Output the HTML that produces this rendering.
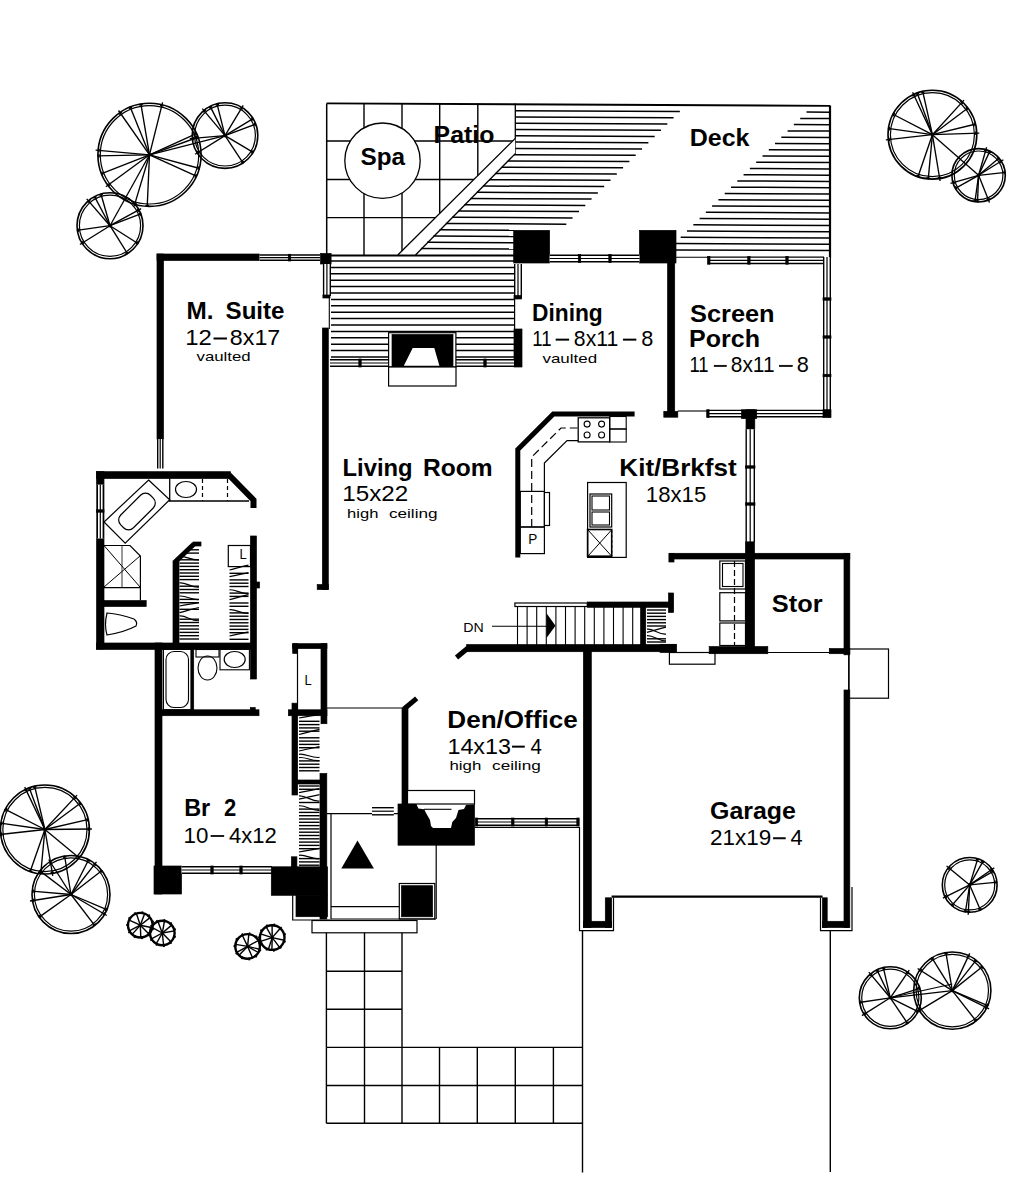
<!DOCTYPE html>
<html><head><meta charset="utf-8"><style>
html,body{margin:0;padding:0;background:#fff;}
svg{display:block;}
text{font-family:"Liberation Sans",sans-serif;fill:#000;}
</style></head><body>
<svg width="1024" height="1192" viewBox="0 0 1024 1192">
<rect width="1024" height="1192" fill="#fff"/>
<circle cx="149.5" cy="154.8" r="51.6" fill="none" stroke="#000" stroke-width="1.6"/>
<circle cx="149.5" cy="154.8" r="49.2" fill="none" stroke="#000" stroke-width="1.2"/>
<line x1="149.5" y1="154.8" x2="118.5" y2="110.5" stroke="#000" stroke-width="1.35" />
<line x1="119.0" y1="114.4" x2="122.0" y2="112.3" stroke="#000" stroke-width="1.2" />
<line x1="149.5" y1="154.8" x2="130.0" y2="106.5" stroke="#000" stroke-width="1.35" />
<line x1="128.9" y1="108.6" x2="132.2" y2="107.2" stroke="#000" stroke-width="1.2" />
<line x1="149.5" y1="154.8" x2="140.8" y2="103.4" stroke="#000" stroke-width="1.35" />
<line x1="139.3" y1="105.2" x2="142.8" y2="104.6" stroke="#000" stroke-width="1.2" />
<line x1="149.5" y1="154.8" x2="162.6" y2="102.3" stroke="#000" stroke-width="1.35" />
<line x1="160.0" y1="105.3" x2="163.5" y2="106.1" stroke="#000" stroke-width="1.2" />
<line x1="149.5" y1="154.8" x2="196.9" y2="133.3" stroke="#000" stroke-width="1.35" />
<line x1="194.8" y1="132.3" x2="196.3" y2="135.5" stroke="#000" stroke-width="1.2" />
<line x1="149.5" y1="154.8" x2="198.5" y2="137.0" stroke="#000" stroke-width="1.35" />
<line x1="196.4" y1="135.8" x2="197.7" y2="139.2" stroke="#000" stroke-width="1.2" />
<line x1="149.5" y1="154.8" x2="95.6" y2="150.1" stroke="#000" stroke-width="1.35" />
<line x1="98.9" y1="152.2" x2="99.2" y2="148.6" stroke="#000" stroke-width="1.2" />
<line x1="149.5" y1="154.8" x2="97.4" y2="155.9" stroke="#000" stroke-width="1.35" />
<line x1="98.9" y1="157.7" x2="98.9" y2="154.1" stroke="#000" stroke-width="1.2" />
<line x1="149.5" y1="154.8" x2="101.0" y2="173.8" stroke="#000" stroke-width="1.35" />
<line x1="103.0" y1="174.9" x2="101.7" y2="171.6" stroke="#000" stroke-width="1.2" />
<line x1="149.5" y1="154.8" x2="105.9" y2="186.8" stroke="#000" stroke-width="1.35" />
<line x1="109.8" y1="186.2" x2="107.7" y2="183.3" stroke="#000" stroke-width="1.2" />
<line x1="149.5" y1="154.8" x2="199.8" y2="168.5" stroke="#000" stroke-width="1.35" />
<line x1="198.8" y1="166.3" x2="197.9" y2="169.8" stroke="#000" stroke-width="1.2" />
<line x1="149.5" y1="154.8" x2="196.9" y2="176.4" stroke="#000" stroke-width="1.35" />
<line x1="196.3" y1="174.1" x2="194.8" y2="177.4" stroke="#000" stroke-width="1.2" />
<line x1="149.5" y1="154.8" x2="134.0" y2="206.6" stroke="#000" stroke-width="1.35" />
<line x1="136.8" y1="203.8" x2="133.3" y2="202.8" stroke="#000" stroke-width="1.2" />
<line x1="149.5" y1="154.8" x2="147.2" y2="206.9" stroke="#000" stroke-width="1.35" />
<line x1="149.1" y1="205.4" x2="145.5" y2="205.3" stroke="#000" stroke-width="1.2" />
<circle cx="149.5" cy="154.8" r="1.8" fill="#000"/>
<circle cx="225.0" cy="135.6" r="32.8" fill="none" stroke="#000" stroke-width="1.6"/>
<circle cx="225.0" cy="135.6" r="30.4" fill="none" stroke="#000" stroke-width="1.2"/>
<line x1="225.0" y1="135.6" x2="202.3" y2="108.6" stroke="#000" stroke-width="1.35" />
<line x1="203.2" y1="112.4" x2="205.9" y2="110.1" stroke="#000" stroke-width="1.2" />
<line x1="225.0" y1="135.6" x2="209.9" y2="105.9" stroke="#000" stroke-width="1.35" />
<line x1="209.0" y1="108.1" x2="212.2" y2="106.4" stroke="#000" stroke-width="1.2" />
<line x1="225.0" y1="135.6" x2="216.9" y2="103.3" stroke="#000" stroke-width="1.35" />
<line x1="215.6" y1="105.2" x2="219.1" y2="104.3" stroke="#000" stroke-width="1.2" />
<line x1="225.0" y1="135.6" x2="243.2" y2="105.3" stroke="#000" stroke-width="1.35" />
<line x1="239.8" y1="107.4" x2="242.9" y2="109.3" stroke="#000" stroke-width="1.2" />
<line x1="225.0" y1="135.6" x2="253.5" y2="118.4" stroke="#000" stroke-width="1.35" />
<line x1="251.3" y1="117.7" x2="253.2" y2="120.8" stroke="#000" stroke-width="1.2" />
<line x1="225.0" y1="135.6" x2="256.2" y2="123.9" stroke="#000" stroke-width="1.35" />
<line x1="254.1" y1="122.7" x2="255.4" y2="126.1" stroke="#000" stroke-width="1.2" />
<line x1="225.0" y1="135.6" x2="195.1" y2="154.3" stroke="#000" stroke-width="1.35" />
<line x1="199.0" y1="154.0" x2="197.1" y2="150.9" stroke="#000" stroke-width="1.2" />
<line x1="225.0" y1="135.6" x2="243.3" y2="163.4" stroke="#000" stroke-width="1.35" />
<line x1="244.0" y1="161.2" x2="241.0" y2="163.2" stroke="#000" stroke-width="1.2" />
<line x1="225.0" y1="135.6" x2="253.6" y2="152.7" stroke="#000" stroke-width="1.35" />
<line x1="253.2" y1="150.3" x2="251.4" y2="153.4" stroke="#000" stroke-width="1.2" />
<line x1="225.0" y1="135.6" x2="189.8" y2="138.7" stroke="#000" stroke-width="1.35" />
<line x1="193.5" y1="140.2" x2="193.2" y2="136.6" stroke="#000" stroke-width="1.2" />
<circle cx="225.0" cy="135.6" r="1.8" fill="#000"/>
<circle cx="110.0" cy="225.7" r="33.0" fill="none" stroke="#000" stroke-width="1.6"/>
<circle cx="110.0" cy="225.7" r="30.6" fill="none" stroke="#000" stroke-width="1.2"/>
<line x1="110.0" y1="225.7" x2="86.7" y2="198.9" stroke="#000" stroke-width="1.35" />
<line x1="87.6" y1="202.7" x2="90.4" y2="200.4" stroke="#000" stroke-width="1.2" />
<line x1="110.0" y1="225.7" x2="94.3" y2="196.1" stroke="#000" stroke-width="1.35" />
<line x1="93.4" y1="198.3" x2="96.6" y2="196.6" stroke="#000" stroke-width="1.2" />
<line x1="110.0" y1="225.7" x2="100.8" y2="193.5" stroke="#000" stroke-width="1.35" />
<line x1="99.4" y1="195.4" x2="102.9" y2="194.4" stroke="#000" stroke-width="1.2" />
<line x1="110.0" y1="225.7" x2="141.1" y2="208.7" stroke="#000" stroke-width="1.35" />
<line x1="137.2" y1="208.8" x2="138.9" y2="211.9" stroke="#000" stroke-width="1.2" />
<line x1="110.0" y1="225.7" x2="141.3" y2="213.7" stroke="#000" stroke-width="1.35" />
<line x1="139.2" y1="212.6" x2="140.5" y2="215.9" stroke="#000" stroke-width="1.2" />
<line x1="110.0" y1="225.7" x2="76.8" y2="230.4" stroke="#000" stroke-width="1.35" />
<line x1="78.6" y1="231.9" x2="78.1" y2="228.4" stroke="#000" stroke-width="1.2" />
<line x1="110.0" y1="225.7" x2="79.9" y2="244.5" stroke="#000" stroke-width="1.35" />
<line x1="83.8" y1="244.2" x2="81.9" y2="241.1" stroke="#000" stroke-width="1.2" />
<line x1="110.0" y1="225.7" x2="127.8" y2="254.1" stroke="#000" stroke-width="1.35" />
<line x1="128.5" y1="251.9" x2="125.4" y2="253.8" stroke="#000" stroke-width="1.2" />
<line x1="110.0" y1="225.7" x2="138.3" y2="243.7" stroke="#000" stroke-width="1.35" />
<line x1="138.0" y1="241.4" x2="136.0" y2="244.4" stroke="#000" stroke-width="1.2" />
<circle cx="110.0" cy="225.7" r="1.8" fill="#000"/>
<line x1="149.5" y1="154.8" x2="225.0" y2="135.6" stroke="#000" stroke-width="1.2" />
<line x1="149.5" y1="154.8" x2="110.0" y2="225.7" stroke="#000" stroke-width="1.3" />
<circle cx="932.4" cy="134.7" r="44.4" fill="none" stroke="#000" stroke-width="1.6"/>
<circle cx="932.4" cy="134.7" r="42.0" fill="none" stroke="#000" stroke-width="1.2"/>
<line x1="932.4" y1="134.7" x2="912.6" y2="92.2" stroke="#000" stroke-width="1.35" />
<line x1="912.4" y1="96.1" x2="915.7" y2="94.6" stroke="#000" stroke-width="1.2" />
<line x1="932.4" y1="134.7" x2="917.0" y2="92.5" stroke="#000" stroke-width="1.35" />
<line x1="915.9" y1="94.5" x2="919.2" y2="93.3" stroke="#000" stroke-width="1.2" />
<line x1="932.4" y1="134.7" x2="922.6" y2="90.9" stroke="#000" stroke-width="1.35" />
<line x1="921.2" y1="92.7" x2="924.7" y2="92.0" stroke="#000" stroke-width="1.2" />
<line x1="932.4" y1="134.7" x2="964.0" y2="100.1" stroke="#000" stroke-width="1.35" />
<line x1="960.3" y1="101.4" x2="963.0" y2="103.9" stroke="#000" stroke-width="1.2" />
<line x1="932.4" y1="134.7" x2="968.3" y2="107.7" stroke="#000" stroke-width="1.35" />
<line x1="966.0" y1="107.1" x2="968.1" y2="110.0" stroke="#000" stroke-width="1.2" />
<line x1="932.4" y1="134.7" x2="976.0" y2="124.0" stroke="#000" stroke-width="1.35" />
<line x1="974.1" y1="122.6" x2="975.0" y2="126.1" stroke="#000" stroke-width="1.2" />
<line x1="932.4" y1="134.7" x2="979.3" y2="133.1" stroke="#000" stroke-width="1.35" />
<line x1="975.7" y1="131.4" x2="975.8" y2="135.0" stroke="#000" stroke-width="1.2" />
<line x1="932.4" y1="134.7" x2="892.5" y2="114.0" stroke="#000" stroke-width="1.35" />
<line x1="893.0" y1="116.3" x2="894.7" y2="113.1" stroke="#000" stroke-width="1.2" />
<line x1="932.4" y1="134.7" x2="887.9" y2="128.4" stroke="#000" stroke-width="1.35" />
<line x1="889.2" y1="130.4" x2="889.7" y2="126.8" stroke="#000" stroke-width="1.2" />
<line x1="932.4" y1="134.7" x2="885.8" y2="139.8" stroke="#000" stroke-width="1.35" />
<line x1="889.5" y1="141.3" x2="889.1" y2="137.7" stroke="#000" stroke-width="1.2" />
<line x1="932.4" y1="134.7" x2="917.8" y2="177.2" stroke="#000" stroke-width="1.35" />
<line x1="920.0" y1="176.3" x2="916.6" y2="175.1" stroke="#000" stroke-width="1.2" />
<line x1="932.4" y1="134.7" x2="928.2" y2="179.4" stroke="#000" stroke-width="1.35" />
<line x1="930.1" y1="178.1" x2="926.5" y2="177.7" stroke="#000" stroke-width="1.2" />
<line x1="932.4" y1="134.7" x2="940.1" y2="181.0" stroke="#000" stroke-width="1.35" />
<line x1="941.3" y1="177.2" x2="937.8" y2="177.8" stroke="#000" stroke-width="1.2" />
<circle cx="932.4" cy="134.7" r="1.8" fill="#000"/>
<circle cx="978.6" cy="175.3" r="26.7" fill="none" stroke="#000" stroke-width="1.6"/>
<circle cx="978.6" cy="175.3" r="24.3" fill="none" stroke="#000" stroke-width="1.2"/>
<line x1="978.6" y1="175.3" x2="986.6" y2="147.2" stroke="#000" stroke-width="1.35" />
<line x1="984.0" y1="150.1" x2="987.4" y2="151.1" stroke="#000" stroke-width="1.2" />
<line x1="978.6" y1="175.3" x2="990.1" y2="150.6" stroke="#000" stroke-width="1.35" />
<line x1="987.8" y1="151.2" x2="991.1" y2="152.8" stroke="#000" stroke-width="1.2" />
<line x1="978.6" y1="175.3" x2="999.4" y2="157.8" stroke="#000" stroke-width="1.35" />
<line x1="997.1" y1="157.4" x2="999.4" y2="160.2" stroke="#000" stroke-width="1.2" />
<line x1="978.6" y1="175.3" x2="1003.4" y2="159.8" stroke="#000" stroke-width="1.35" />
<line x1="999.4" y1="160.2" x2="1001.3" y2="163.2" stroke="#000" stroke-width="1.2" />
<line x1="978.6" y1="175.3" x2="1005.6" y2="172.3" stroke="#000" stroke-width="1.35" />
<line x1="1003.9" y1="170.6" x2="1004.3" y2="174.2" stroke="#000" stroke-width="1.2" />
<line x1="978.6" y1="175.3" x2="954.9" y2="188.7" stroke="#000" stroke-width="1.35" />
<line x1="957.1" y1="189.5" x2="955.3" y2="186.3" stroke="#000" stroke-width="1.2" />
<line x1="978.6" y1="175.3" x2="950.5" y2="183.3" stroke="#000" stroke-width="1.35" />
<line x1="954.4" y1="184.1" x2="953.4" y2="180.7" stroke="#000" stroke-width="1.2" />
<line x1="978.6" y1="175.3" x2="974.9" y2="202.2" stroke="#000" stroke-width="1.35" />
<line x1="976.9" y1="201.0" x2="973.3" y2="200.5" stroke="#000" stroke-width="1.2" />
<line x1="978.6" y1="175.3" x2="977.5" y2="202.5" stroke="#000" stroke-width="1.35" />
<line x1="979.3" y1="201.1" x2="975.7" y2="200.9" stroke="#000" stroke-width="1.2" />
<line x1="978.6" y1="175.3" x2="989.5" y2="202.4" stroke="#000" stroke-width="1.35" />
<line x1="989.9" y1="198.5" x2="986.6" y2="199.8" stroke="#000" stroke-width="1.2" />
<circle cx="978.6" cy="175.3" r="1.8" fill="#000"/>
<line x1="932.4" y1="134.7" x2="978.6" y2="175.3" stroke="#000" stroke-width="1.3" />
<circle cx="44.9" cy="829.5" r="44.5" fill="none" stroke="#000" stroke-width="1.6"/>
<circle cx="44.9" cy="829.5" r="42.1" fill="none" stroke="#000" stroke-width="1.2"/>
<line x1="44.9" y1="829.5" x2="24.7" y2="787.1" stroke="#000" stroke-width="1.35" />
<line x1="24.5" y1="791.0" x2="27.8" y2="789.5" stroke="#000" stroke-width="1.2" />
<line x1="44.9" y1="829.5" x2="29.1" y2="787.4" stroke="#000" stroke-width="1.35" />
<line x1="27.9" y1="789.4" x2="31.3" y2="788.1" stroke="#000" stroke-width="1.2" />
<line x1="44.9" y1="829.5" x2="34.5" y2="785.7" stroke="#000" stroke-width="1.35" />
<line x1="33.1" y1="787.6" x2="36.6" y2="786.8" stroke="#000" stroke-width="1.2" />
<line x1="44.9" y1="829.5" x2="77.0" y2="795.1" stroke="#000" stroke-width="1.35" />
<line x1="73.3" y1="796.5" x2="75.9" y2="798.9" stroke="#000" stroke-width="1.2" />
<line x1="44.9" y1="829.5" x2="81.0" y2="802.7" stroke="#000" stroke-width="1.35" />
<line x1="78.7" y1="802.1" x2="80.9" y2="805.0" stroke="#000" stroke-width="1.2" />
<line x1="44.9" y1="829.5" x2="88.7" y2="819.4" stroke="#000" stroke-width="1.35" />
<line x1="86.9" y1="818.0" x2="87.7" y2="821.5" stroke="#000" stroke-width="1.2" />
<line x1="44.9" y1="829.5" x2="91.9" y2="829.0" stroke="#000" stroke-width="1.35" />
<line x1="88.4" y1="827.2" x2="88.4" y2="830.8" stroke="#000" stroke-width="1.2" />
<line x1="44.9" y1="829.5" x2="4.8" y2="809.1" stroke="#000" stroke-width="1.35" />
<line x1="5.3" y1="811.4" x2="7.0" y2="808.1" stroke="#000" stroke-width="1.2" />
<line x1="44.9" y1="829.5" x2="0.4" y2="823.1" stroke="#000" stroke-width="1.35" />
<line x1="1.6" y1="825.1" x2="2.1" y2="821.5" stroke="#000" stroke-width="1.2" />
<line x1="44.9" y1="829.5" x2="-1.8" y2="834.7" stroke="#000" stroke-width="1.35" />
<line x1="1.9" y1="836.1" x2="1.5" y2="832.5" stroke="#000" stroke-width="1.2" />
<line x1="44.9" y1="829.5" x2="30.0" y2="872.0" stroke="#000" stroke-width="1.35" />
<line x1="32.2" y1="871.2" x2="28.8" y2="870.0" stroke="#000" stroke-width="1.2" />
<line x1="44.9" y1="829.5" x2="40.7" y2="874.3" stroke="#000" stroke-width="1.35" />
<line x1="42.6" y1="873.0" x2="39.0" y2="872.6" stroke="#000" stroke-width="1.2" />
<line x1="44.9" y1="829.5" x2="52.8" y2="875.8" stroke="#000" stroke-width="1.35" />
<line x1="54.0" y1="872.1" x2="50.5" y2="872.7" stroke="#000" stroke-width="1.2" />
<line x1="44.9" y1="829.5" x2="79.6" y2="858.2" stroke="#000" stroke-width="1.35" />
<line x1="79.6" y1="855.8" x2="77.3" y2="858.6" stroke="#000" stroke-width="1.2" />
<circle cx="44.9" cy="829.5" r="1.8" fill="#000"/>
<circle cx="71.0" cy="894.5" r="39.0" fill="none" stroke="#000" stroke-width="1.6"/>
<circle cx="71.0" cy="894.5" r="36.6" fill="none" stroke="#000" stroke-width="1.2"/>
<line x1="71.0" y1="894.5" x2="48.7" y2="859.5" stroke="#000" stroke-width="1.35" />
<line x1="49.1" y1="863.4" x2="52.1" y2="861.5" stroke="#000" stroke-width="1.2" />
<line x1="71.0" y1="894.5" x2="64.5" y2="855.5" stroke="#000" stroke-width="1.35" />
<line x1="63.0" y1="857.3" x2="66.6" y2="856.7" stroke="#000" stroke-width="1.2" />
<line x1="71.0" y1="894.5" x2="88.9" y2="859.3" stroke="#000" stroke-width="1.35" />
<line x1="86.6" y1="859.8" x2="89.9" y2="861.5" stroke="#000" stroke-width="1.2" />
<line x1="71.0" y1="894.5" x2="96.5" y2="861.8" stroke="#000" stroke-width="1.35" />
<line x1="93.0" y1="863.4" x2="95.8" y2="865.7" stroke="#000" stroke-width="1.2" />
<line x1="71.0" y1="894.5" x2="102.3" y2="870.3" stroke="#000" stroke-width="1.35" />
<line x1="100.0" y1="869.8" x2="102.2" y2="872.7" stroke="#000" stroke-width="1.2" />
<line x1="71.0" y1="894.5" x2="31.7" y2="891.1" stroke="#000" stroke-width="1.35" />
<line x1="33.0" y1="893.0" x2="33.3" y2="889.4" stroke="#000" stroke-width="1.2" />
<line x1="71.0" y1="894.5" x2="30.0" y2="901.0" stroke="#000" stroke-width="1.35" />
<line x1="33.7" y1="902.2" x2="33.2" y2="898.7" stroke="#000" stroke-width="1.2" />
<line x1="71.0" y1="894.5" x2="38.8" y2="917.4" stroke="#000" stroke-width="1.35" />
<line x1="41.1" y1="918.0" x2="39.0" y2="915.0" stroke="#000" stroke-width="1.2" />
<line x1="71.0" y1="894.5" x2="95.0" y2="925.8" stroke="#000" stroke-width="1.35" />
<line x1="95.6" y1="923.6" x2="92.7" y2="925.7" stroke="#000" stroke-width="1.2" />
<line x1="71.0" y1="894.5" x2="106.8" y2="915.5" stroke="#000" stroke-width="1.35" />
<line x1="104.7" y1="912.2" x2="102.9" y2="915.3" stroke="#000" stroke-width="1.2" />
<line x1="71.0" y1="894.5" x2="107.4" y2="909.9" stroke="#000" stroke-width="1.35" />
<line x1="106.7" y1="907.7" x2="105.3" y2="911.0" stroke="#000" stroke-width="1.2" />
<line x1="71.0" y1="894.5" x2="39.6" y2="870.6" stroke="#000" stroke-width="1.35" />
<line x1="39.7" y1="872.9" x2="41.9" y2="870.0" stroke="#000" stroke-width="1.2" />
<circle cx="71.0" cy="894.5" r="1.8" fill="#000"/>
<circle cx="969.7" cy="884.9" r="27.4" fill="none" stroke="#000" stroke-width="1.6"/>
<circle cx="969.7" cy="884.9" r="25.0" fill="none" stroke="#000" stroke-width="1.2"/>
<line x1="969.7" y1="884.9" x2="946.6" y2="866.0" stroke="#000" stroke-width="1.35" />
<line x1="948.1" y1="869.6" x2="950.4" y2="866.8" stroke="#000" stroke-width="1.2" />
<line x1="969.7" y1="884.9" x2="977.9" y2="858.2" stroke="#000" stroke-width="1.35" />
<line x1="975.7" y1="859.1" x2="979.1" y2="860.2" stroke="#000" stroke-width="1.2" />
<line x1="969.7" y1="884.9" x2="983.4" y2="860.6" stroke="#000" stroke-width="1.35" />
<line x1="981.0" y1="861.0" x2="984.2" y2="862.8" stroke="#000" stroke-width="1.2" />
<line x1="969.7" y1="884.9" x2="994.3" y2="867.8" stroke="#000" stroke-width="1.35" />
<line x1="990.4" y1="868.4" x2="992.4" y2="871.3" stroke="#000" stroke-width="1.2" />
<line x1="969.7" y1="884.9" x2="993.9" y2="870.9" stroke="#000" stroke-width="1.35" />
<line x1="991.7" y1="870.1" x2="993.5" y2="873.3" stroke="#000" stroke-width="1.2" />
<line x1="969.7" y1="884.9" x2="997.5" y2="882.2" stroke="#000" stroke-width="1.35" />
<line x1="995.8" y1="880.5" x2="996.1" y2="884.1" stroke="#000" stroke-width="1.2" />
<line x1="969.7" y1="884.9" x2="942.9" y2="898.1" stroke="#000" stroke-width="1.35" />
<line x1="946.8" y1="898.2" x2="945.2" y2="894.9" stroke="#000" stroke-width="1.2" />
<line x1="969.7" y1="884.9" x2="951.4" y2="906.0" stroke="#000" stroke-width="1.35" />
<line x1="953.7" y1="906.0" x2="951.0" y2="903.6" stroke="#000" stroke-width="1.2" />
<line x1="969.7" y1="884.9" x2="965.3" y2="912.5" stroke="#000" stroke-width="1.35" />
<line x1="967.3" y1="911.3" x2="963.8" y2="910.7" stroke="#000" stroke-width="1.2" />
<line x1="969.7" y1="884.9" x2="968.2" y2="914.8" stroke="#000" stroke-width="1.35" />
<line x1="970.2" y1="911.4" x2="966.6" y2="911.2" stroke="#000" stroke-width="1.2" />
<line x1="969.7" y1="884.9" x2="980.6" y2="910.6" stroke="#000" stroke-width="1.35" />
<line x1="981.7" y1="908.5" x2="978.4" y2="909.9" stroke="#000" stroke-width="1.2" />
<circle cx="969.7" cy="884.9" r="1.8" fill="#000"/>
<circle cx="890.3" cy="997.8" r="31.0" fill="none" stroke="#000" stroke-width="1.6"/>
<circle cx="890.3" cy="997.8" r="28.6" fill="none" stroke="#000" stroke-width="1.2"/>
<line x1="890.3" y1="997.8" x2="868.8" y2="972.1" stroke="#000" stroke-width="1.35" />
<line x1="869.6" y1="976.0" x2="872.4" y2="973.7" stroke="#000" stroke-width="1.2" />
<line x1="890.3" y1="997.8" x2="876.7" y2="969.4" stroke="#000" stroke-width="1.35" />
<line x1="875.8" y1="971.5" x2="879.0" y2="969.9" stroke="#000" stroke-width="1.2" />
<line x1="890.3" y1="997.8" x2="883.2" y2="967.1" stroke="#000" stroke-width="1.35" />
<line x1="881.8" y1="969.0" x2="885.3" y2="968.2" stroke="#000" stroke-width="1.2" />
<line x1="890.3" y1="997.8" x2="909.3" y2="970.2" stroke="#000" stroke-width="1.35" />
<line x1="905.8" y1="972.1" x2="908.8" y2="974.1" stroke="#000" stroke-width="1.2" />
<line x1="890.3" y1="997.8" x2="920.3" y2="988.1" stroke="#000" stroke-width="1.35" />
<line x1="918.3" y1="986.8" x2="919.4" y2="990.2" stroke="#000" stroke-width="1.2" />
<line x1="890.3" y1="997.8" x2="859.1" y2="1002.5" stroke="#000" stroke-width="1.35" />
<line x1="860.9" y1="1004.0" x2="860.4" y2="1000.5" stroke="#000" stroke-width="1.2" />
<line x1="890.3" y1="997.8" x2="861.9" y2="1015.6" stroke="#000" stroke-width="1.35" />
<line x1="865.8" y1="1015.2" x2="863.9" y2="1012.2" stroke="#000" stroke-width="1.2" />
<line x1="890.3" y1="997.8" x2="907.9" y2="1023.9" stroke="#000" stroke-width="1.35" />
<line x1="908.6" y1="1021.7" x2="905.6" y2="1023.7" stroke="#000" stroke-width="1.2" />
<line x1="890.3" y1="997.8" x2="918.5" y2="1011.8" stroke="#000" stroke-width="1.35" />
<line x1="918.0" y1="1009.5" x2="916.4" y2="1012.8" stroke="#000" stroke-width="1.2" />
<circle cx="890.3" cy="997.8" r="1.8" fill="#000"/>
<circle cx="952.3" cy="990.6" r="38.6" fill="none" stroke="#000" stroke-width="1.6"/>
<circle cx="952.3" cy="990.6" r="36.2" fill="none" stroke="#000" stroke-width="1.2"/>
<line x1="952.3" y1="990.6" x2="917.6" y2="968.5" stroke="#000" stroke-width="1.35" />
<line x1="919.6" y1="971.9" x2="921.6" y2="968.9" stroke="#000" stroke-width="1.2" />
<line x1="952.3" y1="990.6" x2="931.6" y2="957.4" stroke="#000" stroke-width="1.35" />
<line x1="930.8" y1="959.7" x2="933.9" y2="957.8" stroke="#000" stroke-width="1.2" />
<line x1="952.3" y1="990.6" x2="945.8" y2="952.0" stroke="#000" stroke-width="1.35" />
<line x1="944.3" y1="953.8" x2="947.9" y2="953.2" stroke="#000" stroke-width="1.2" />
<line x1="952.3" y1="990.6" x2="969.7" y2="953.4" stroke="#000" stroke-width="1.35" />
<line x1="966.6" y1="955.8" x2="969.8" y2="957.3" stroke="#000" stroke-width="1.2" />
<line x1="952.3" y1="990.6" x2="976.4" y2="959.8" stroke="#000" stroke-width="1.35" />
<line x1="974.0" y1="959.9" x2="976.9" y2="962.1" stroke="#000" stroke-width="1.2" />
<line x1="952.3" y1="990.6" x2="982.9" y2="966.3" stroke="#000" stroke-width="1.35" />
<line x1="980.6" y1="965.8" x2="982.9" y2="968.7" stroke="#000" stroke-width="1.2" />
<line x1="952.3" y1="990.6" x2="917.1" y2="1011.9" stroke="#000" stroke-width="1.35" />
<line x1="921.1" y1="1011.6" x2="919.2" y2="1008.5" stroke="#000" stroke-width="1.2" />
<line x1="952.3" y1="990.6" x2="976.4" y2="1021.4" stroke="#000" stroke-width="1.35" />
<line x1="976.9" y1="1019.1" x2="974.0" y2="1021.3" stroke="#000" stroke-width="1.2" />
<line x1="952.3" y1="990.6" x2="988.3" y2="1005.8" stroke="#000" stroke-width="1.35" />
<line x1="987.7" y1="1003.5" x2="986.3" y2="1006.8" stroke="#000" stroke-width="1.2" />
<line x1="952.3" y1="990.6" x2="989.1" y2="1008.9" stroke="#000" stroke-width="1.35" />
<line x1="986.8" y1="1005.8" x2="985.1" y2="1009.0" stroke="#000" stroke-width="1.2" />
<circle cx="952.3" cy="990.6" r="1.8" fill="#000"/>
<line x1="890.3" y1="997.8" x2="952.3" y2="990.6" stroke="#000" stroke-width="1.3" />
<line x1="890.3" y1="997.8" x2="952.3" y2="984.0" stroke="#000" stroke-width="1.1" />
<circle cx="140.3" cy="925.2" r="12.3" fill="none" stroke="#000" stroke-width="2.4"/>
<line x1="140.3" y1="925.2" x2="152.3" y2="927.7" stroke="#000" stroke-width="1.4" />
<line x1="140.3" y1="925.2" x2="148.9" y2="933.9" stroke="#000" stroke-width="1.4" />
<line x1="140.3" y1="925.2" x2="140.8" y2="937.5" stroke="#000" stroke-width="1.4" />
<line x1="140.3" y1="925.2" x2="132.1" y2="934.4" stroke="#000" stroke-width="1.4" />
<line x1="140.3" y1="925.2" x2="129.3" y2="930.8" stroke="#000" stroke-width="1.4" />
<line x1="140.3" y1="925.2" x2="129.1" y2="920.2" stroke="#000" stroke-width="1.4" />
<line x1="140.3" y1="925.2" x2="136.4" y2="913.5" stroke="#000" stroke-width="1.4" />
<line x1="140.3" y1="925.2" x2="144.6" y2="913.7" stroke="#000" stroke-width="1.4" />
<line x1="140.3" y1="925.2" x2="150.0" y2="917.6" stroke="#000" stroke-width="1.4" />
<line x1="151.1" y1="928.5" x2="153.8" y2="929.4" stroke="#000" stroke-width="1.8" />
<line x1="147.6" y1="933.8" x2="149.4" y2="936.0" stroke="#000" stroke-width="1.8" />
<line x1="141.7" y1="936.4" x2="142.1" y2="939.2" stroke="#000" stroke-width="1.8" />
<line x1="135.5" y1="935.4" x2="134.3" y2="937.9" stroke="#000" stroke-width="1.8" />
<line x1="130.7" y1="931.2" x2="128.3" y2="932.7" stroke="#000" stroke-width="1.8" />
<line x1="129.0" y1="925.0" x2="126.2" y2="925.0" stroke="#000" stroke-width="1.8" />
<line x1="130.9" y1="919.0" x2="128.5" y2="917.4" stroke="#000" stroke-width="1.8" />
<line x1="135.8" y1="914.9" x2="134.6" y2="912.3" stroke="#000" stroke-width="1.8" />
<line x1="142.1" y1="914.0" x2="142.5" y2="911.3" stroke="#000" stroke-width="1.8" />
<line x1="147.8" y1="916.8" x2="149.7" y2="914.7" stroke="#000" stroke-width="1.8" />
<line x1="151.2" y1="922.2" x2="153.9" y2="921.4" stroke="#000" stroke-width="1.8" />
<circle cx="140.3" cy="925.2" r="1.6" fill="#000"/>
<circle cx="162.3" cy="933.0" r="12.3" fill="none" stroke="#000" stroke-width="2.4"/>
<line x1="162.3" y1="933.0" x2="174.4" y2="930.9" stroke="#000" stroke-width="1.4" />
<line x1="162.3" y1="933.0" x2="170.9" y2="941.8" stroke="#000" stroke-width="1.4" />
<line x1="162.3" y1="933.0" x2="163.6" y2="945.2" stroke="#000" stroke-width="1.4" />
<line x1="162.3" y1="933.0" x2="156.3" y2="943.7" stroke="#000" stroke-width="1.4" />
<line x1="162.3" y1="933.0" x2="151.5" y2="938.8" stroke="#000" stroke-width="1.4" />
<line x1="162.3" y1="933.0" x2="151.5" y2="927.2" stroke="#000" stroke-width="1.4" />
<line x1="162.3" y1="933.0" x2="157.9" y2="921.5" stroke="#000" stroke-width="1.4" />
<line x1="162.3" y1="933.0" x2="164.5" y2="920.9" stroke="#000" stroke-width="1.4" />
<line x1="162.3" y1="933.0" x2="171.7" y2="925.1" stroke="#000" stroke-width="1.4" />
<line x1="173.1" y1="936.3" x2="175.8" y2="937.2" stroke="#000" stroke-width="1.8" />
<line x1="169.6" y1="941.6" x2="171.4" y2="943.8" stroke="#000" stroke-width="1.8" />
<line x1="163.7" y1="944.2" x2="164.1" y2="947.0" stroke="#000" stroke-width="1.8" />
<line x1="157.5" y1="943.2" x2="156.3" y2="945.7" stroke="#000" stroke-width="1.8" />
<line x1="152.7" y1="939.0" x2="150.3" y2="940.5" stroke="#000" stroke-width="1.8" />
<line x1="151.0" y1="932.8" x2="148.2" y2="932.8" stroke="#000" stroke-width="1.8" />
<line x1="152.9" y1="926.8" x2="150.5" y2="925.2" stroke="#000" stroke-width="1.8" />
<line x1="157.8" y1="922.7" x2="156.6" y2="920.1" stroke="#000" stroke-width="1.8" />
<line x1="164.1" y1="921.8" x2="164.5" y2="919.1" stroke="#000" stroke-width="1.8" />
<line x1="169.8" y1="924.6" x2="171.7" y2="922.5" stroke="#000" stroke-width="1.8" />
<line x1="173.2" y1="930.0" x2="175.9" y2="929.2" stroke="#000" stroke-width="1.8" />
<circle cx="162.3" cy="933.0" r="1.6" fill="#000"/>
<circle cx="247.6" cy="946.4" r="12.3" fill="none" stroke="#000" stroke-width="2.4"/>
<line x1="247.6" y1="946.4" x2="259.6" y2="949.2" stroke="#000" stroke-width="1.4" />
<line x1="247.6" y1="946.4" x2="258.3" y2="952.5" stroke="#000" stroke-width="1.4" />
<line x1="247.6" y1="946.4" x2="252.5" y2="957.7" stroke="#000" stroke-width="1.4" />
<line x1="247.6" y1="946.4" x2="239.0" y2="955.2" stroke="#000" stroke-width="1.4" />
<line x1="247.6" y1="946.4" x2="236.8" y2="952.4" stroke="#000" stroke-width="1.4" />
<line x1="247.6" y1="946.4" x2="235.5" y2="944.4" stroke="#000" stroke-width="1.4" />
<line x1="247.6" y1="946.4" x2="242.3" y2="935.3" stroke="#000" stroke-width="1.4" />
<line x1="247.6" y1="946.4" x2="248.8" y2="934.2" stroke="#000" stroke-width="1.4" />
<line x1="247.6" y1="946.4" x2="258.4" y2="940.5" stroke="#000" stroke-width="1.4" />
<line x1="258.4" y1="949.7" x2="261.1" y2="950.6" stroke="#000" stroke-width="1.8" />
<line x1="254.9" y1="955.0" x2="256.7" y2="957.2" stroke="#000" stroke-width="1.8" />
<line x1="249.0" y1="957.6" x2="249.4" y2="960.4" stroke="#000" stroke-width="1.8" />
<line x1="242.8" y1="956.6" x2="241.6" y2="959.1" stroke="#000" stroke-width="1.8" />
<line x1="238.0" y1="952.4" x2="235.6" y2="953.9" stroke="#000" stroke-width="1.8" />
<line x1="236.3" y1="946.2" x2="233.5" y2="946.2" stroke="#000" stroke-width="1.8" />
<line x1="238.2" y1="940.2" x2="235.8" y2="938.6" stroke="#000" stroke-width="1.8" />
<line x1="243.1" y1="936.1" x2="241.9" y2="933.5" stroke="#000" stroke-width="1.8" />
<line x1="249.4" y1="935.2" x2="249.8" y2="932.5" stroke="#000" stroke-width="1.8" />
<line x1="255.1" y1="938.0" x2="257.0" y2="935.9" stroke="#000" stroke-width="1.8" />
<line x1="258.5" y1="943.4" x2="261.2" y2="942.6" stroke="#000" stroke-width="1.8" />
<circle cx="247.6" cy="946.4" r="1.6" fill="#000"/>
<circle cx="272.2" cy="937.6" r="12.3" fill="none" stroke="#000" stroke-width="2.4"/>
<line x1="272.2" y1="937.6" x2="284.2" y2="940.2" stroke="#000" stroke-width="1.4" />
<line x1="272.2" y1="937.6" x2="279.6" y2="947.4" stroke="#000" stroke-width="1.4" />
<line x1="272.2" y1="937.6" x2="271.9" y2="949.9" stroke="#000" stroke-width="1.4" />
<line x1="272.2" y1="937.6" x2="268.4" y2="949.3" stroke="#000" stroke-width="1.4" />
<line x1="272.2" y1="937.6" x2="260.5" y2="941.3" stroke="#000" stroke-width="1.4" />
<line x1="272.2" y1="937.6" x2="260.5" y2="933.8" stroke="#000" stroke-width="1.4" />
<line x1="272.2" y1="937.6" x2="266.2" y2="926.9" stroke="#000" stroke-width="1.4" />
<line x1="272.2" y1="937.6" x2="272.1" y2="925.3" stroke="#000" stroke-width="1.4" />
<line x1="272.2" y1="937.6" x2="280.3" y2="928.3" stroke="#000" stroke-width="1.4" />
<line x1="283.0" y1="940.9" x2="285.7" y2="941.8" stroke="#000" stroke-width="1.8" />
<line x1="279.5" y1="946.2" x2="281.3" y2="948.4" stroke="#000" stroke-width="1.8" />
<line x1="273.6" y1="948.8" x2="274.0" y2="951.6" stroke="#000" stroke-width="1.8" />
<line x1="267.4" y1="947.8" x2="266.2" y2="950.3" stroke="#000" stroke-width="1.8" />
<line x1="262.6" y1="943.6" x2="260.2" y2="945.1" stroke="#000" stroke-width="1.8" />
<line x1="260.9" y1="937.4" x2="258.1" y2="937.4" stroke="#000" stroke-width="1.8" />
<line x1="262.8" y1="931.4" x2="260.4" y2="929.8" stroke="#000" stroke-width="1.8" />
<line x1="267.7" y1="927.3" x2="266.5" y2="924.7" stroke="#000" stroke-width="1.8" />
<line x1="274.0" y1="926.4" x2="274.4" y2="923.7" stroke="#000" stroke-width="1.8" />
<line x1="279.7" y1="929.2" x2="281.6" y2="927.1" stroke="#000" stroke-width="1.8" />
<line x1="283.1" y1="934.6" x2="285.8" y2="933.8" stroke="#000" stroke-width="1.8" />
<circle cx="272.2" cy="937.6" r="1.6" fill="#000"/>
<line x1="364.0" y1="103.4" x2="364.0" y2="255.0" stroke="#000" stroke-width="1.4" />
<line x1="402.0" y1="103.4" x2="402.0" y2="255.0" stroke="#000" stroke-width="1.4" />
<line x1="439.7" y1="103.4" x2="439.7" y2="255.0" stroke="#000" stroke-width="1.4" />
<line x1="477.8" y1="103.4" x2="477.8" y2="255.0" stroke="#000" stroke-width="1.4" />
<line x1="326.7" y1="141.0" x2="515.3" y2="141.0" stroke="#000" stroke-width="1.4" />
<line x1="326.7" y1="179.5" x2="515.3" y2="179.5" stroke="#000" stroke-width="1.4" />
<line x1="326.7" y1="217.6" x2="515.3" y2="217.6" stroke="#000" stroke-width="1.4" />
<line x1="326.7" y1="103.4" x2="830.0" y2="105.8" stroke="#000" stroke-width="1.8" />
<line x1="326.7" y1="103.4" x2="326.7" y2="257.0" stroke="#000" stroke-width="1.5" />
<line x1="515.3" y1="103.4" x2="515.3" y2="154.5" stroke="#000" stroke-width="1.3" />
<polygon points="397.8,255.0 515.3,138.4 515.3,256.0 397.8,256.0" fill="#fff" stroke="none" stroke-width="0"/>
<line x1="515.3" y1="110.7" x2="679.9" y2="111.5" stroke="#000" stroke-width="1.5" />
<line x1="806.5" y1="112.1" x2="830.0" y2="112.2" stroke="#000" stroke-width="1.5" />
<line x1="515.3" y1="117.0" x2="673.6" y2="117.8" stroke="#000" stroke-width="1.5" />
<line x1="800.2" y1="118.4" x2="830.0" y2="118.5" stroke="#000" stroke-width="1.5" />
<line x1="515.3" y1="123.3" x2="667.3" y2="124.0" stroke="#000" stroke-width="1.5" />
<line x1="793.9" y1="124.6" x2="830.0" y2="124.8" stroke="#000" stroke-width="1.5" />
<line x1="515.3" y1="129.5" x2="661.0" y2="130.3" stroke="#000" stroke-width="1.5" />
<line x1="787.6" y1="130.9" x2="830.0" y2="131.1" stroke="#000" stroke-width="1.5" />
<line x1="515.3" y1="135.8" x2="654.7" y2="136.5" stroke="#000" stroke-width="1.5" />
<line x1="781.3" y1="137.2" x2="830.0" y2="137.4" stroke="#000" stroke-width="1.5" />
<line x1="515.3" y1="142.1" x2="648.4" y2="142.8" stroke="#000" stroke-width="1.5" />
<line x1="775.0" y1="143.4" x2="830.0" y2="143.7" stroke="#000" stroke-width="1.5" />
<line x1="515.3" y1="148.4" x2="642.0" y2="149.1" stroke="#000" stroke-width="1.5" />
<line x1="768.8" y1="149.7" x2="830.0" y2="150.0" stroke="#000" stroke-width="1.5" />
<line x1="514.0" y1="154.7" x2="635.7" y2="155.3" stroke="#000" stroke-width="1.5" />
<line x1="762.5" y1="155.9" x2="830.0" y2="156.3" stroke="#000" stroke-width="1.5" />
<line x1="507.8" y1="161.0" x2="629.4" y2="161.6" stroke="#000" stroke-width="1.5" />
<line x1="756.2" y1="162.2" x2="830.0" y2="162.6" stroke="#000" stroke-width="1.5" />
<line x1="501.6" y1="167.2" x2="623.1" y2="167.8" stroke="#000" stroke-width="1.5" />
<line x1="749.9" y1="168.5" x2="830.0" y2="168.9" stroke="#000" stroke-width="1.5" />
<line x1="495.4" y1="173.5" x2="616.8" y2="174.1" stroke="#000" stroke-width="1.5" />
<line x1="743.6" y1="174.7" x2="830.0" y2="175.2" stroke="#000" stroke-width="1.5" />
<line x1="489.2" y1="179.7" x2="610.5" y2="180.3" stroke="#000" stroke-width="1.5" />
<line x1="737.3" y1="181.0" x2="830.0" y2="181.4" stroke="#000" stroke-width="1.5" />
<line x1="483.0" y1="186.0" x2="604.2" y2="186.6" stroke="#000" stroke-width="1.5" />
<line x1="731.0" y1="187.2" x2="830.0" y2="187.7" stroke="#000" stroke-width="1.5" />
<line x1="476.8" y1="192.3" x2="597.9" y2="192.9" stroke="#000" stroke-width="1.5" />
<line x1="724.7" y1="193.5" x2="830.0" y2="194.0" stroke="#000" stroke-width="1.5" />
<line x1="470.6" y1="198.5" x2="591.6" y2="199.1" stroke="#000" stroke-width="1.5" />
<line x1="718.4" y1="199.8" x2="830.0" y2="200.3" stroke="#000" stroke-width="1.5" />
<line x1="464.4" y1="204.8" x2="585.3" y2="205.4" stroke="#000" stroke-width="1.5" />
<line x1="712.1" y1="206.0" x2="830.0" y2="206.6" stroke="#000" stroke-width="1.5" />
<line x1="458.2" y1="211.0" x2="579.0" y2="211.6" stroke="#000" stroke-width="1.5" />
<line x1="705.9" y1="212.3" x2="830.0" y2="212.9" stroke="#000" stroke-width="1.5" />
<line x1="452.0" y1="217.3" x2="572.6" y2="217.9" stroke="#000" stroke-width="1.5" />
<line x1="699.6" y1="218.5" x2="830.0" y2="219.2" stroke="#000" stroke-width="1.5" />
<line x1="445.8" y1="223.5" x2="566.3" y2="224.2" stroke="#000" stroke-width="1.5" />
<line x1="693.3" y1="224.8" x2="830.0" y2="225.5" stroke="#000" stroke-width="1.5" />
<line x1="439.6" y1="229.8" x2="514.0" y2="230.2" stroke="#000" stroke-width="1.5" />
<line x1="687.0" y1="231.0" x2="830.0" y2="231.8" stroke="#000" stroke-width="1.5" />
<line x1="433.4" y1="236.1" x2="514.0" y2="236.5" stroke="#000" stroke-width="1.5" />
<line x1="680.7" y1="237.3" x2="830.0" y2="238.0" stroke="#000" stroke-width="1.5" />
<line x1="427.1" y1="242.3" x2="514.0" y2="242.8" stroke="#000" stroke-width="1.5" />
<line x1="676.0" y1="243.6" x2="830.0" y2="244.3" stroke="#000" stroke-width="1.5" />
<line x1="420.9" y1="248.6" x2="514.0" y2="249.0" stroke="#000" stroke-width="1.5" />
<line x1="676.0" y1="249.9" x2="830.0" y2="250.6" stroke="#000" stroke-width="1.5" />
<line x1="397.8" y1="255.0" x2="515.3" y2="138.4" stroke="#000" stroke-width="1.3" />
<line x1="415.5" y1="255.0" x2="515.3" y2="153.6" stroke="#000" stroke-width="1.3" />
<line x1="830.0" y1="105.5" x2="830.0" y2="258.0" stroke="#000" stroke-width="2.2" />
<circle cx="382.5" cy="160.7" r="37.7" fill="#fff" stroke="#000" stroke-width="1.3"/>
<line x1="331.0" y1="261.0" x2="514.0" y2="261.0" stroke="#000" stroke-width="1.5" />
<line x1="331.0" y1="267.4" x2="514.0" y2="267.4" stroke="#000" stroke-width="1.5" />
<line x1="331.0" y1="273.8" x2="514.0" y2="273.8" stroke="#000" stroke-width="1.5" />
<line x1="331.0" y1="280.2" x2="514.0" y2="280.2" stroke="#000" stroke-width="1.5" />
<line x1="331.0" y1="286.6" x2="514.0" y2="286.6" stroke="#000" stroke-width="1.5" />
<line x1="331.0" y1="293.0" x2="514.0" y2="293.0" stroke="#000" stroke-width="1.5" />
<line x1="331.0" y1="299.4" x2="514.0" y2="299.4" stroke="#000" stroke-width="1.5" />
<line x1="331.0" y1="305.8" x2="514.0" y2="305.8" stroke="#000" stroke-width="1.5" />
<line x1="331.0" y1="312.2" x2="514.0" y2="312.2" stroke="#000" stroke-width="1.5" />
<line x1="331.0" y1="318.6" x2="514.0" y2="318.6" stroke="#000" stroke-width="1.5" />
<line x1="331.0" y1="325.0" x2="514.0" y2="325.0" stroke="#000" stroke-width="1.5" />
<line x1="331.0" y1="331.4" x2="514.0" y2="331.4" stroke="#000" stroke-width="1.5" />
<line x1="331.0" y1="337.8" x2="514.0" y2="337.8" stroke="#000" stroke-width="1.5" />
<line x1="331.0" y1="344.2" x2="514.0" y2="344.2" stroke="#000" stroke-width="1.5" />
<line x1="331.0" y1="350.6" x2="514.0" y2="350.6" stroke="#000" stroke-width="1.5" />
<line x1="331.0" y1="357.0" x2="514.0" y2="357.0" stroke="#000" stroke-width="1.5" />
<line x1="329.3" y1="297.0" x2="329.3" y2="329.0" stroke="#000" stroke-width="1.1" />
<line x1="326.0" y1="255.5" x2="516.0" y2="255.5" stroke="#000" stroke-width="2.0" />
<rect x="157.0" y="254.0" width="102.5" height="6.5" fill="#000" stroke="#000" stroke-width="0.7"/>
<rect x="259.5" y="254.3" width="60.5" height="6.7" fill="#fff"/>
<line x1="259.5" y1="255.0" x2="320.0" y2="255.0" stroke="#000" stroke-width="1.4" />
<line x1="259.5" y1="260.3" x2="320.0" y2="260.3" stroke="#000" stroke-width="1.4" />
<line x1="259.5" y1="257.6" x2="320.0" y2="257.6" stroke="#000" stroke-width="1.2" />
<rect x="288.3" y="254.3" width="2.4" height="6.7" fill="#000" stroke="#000" stroke-width="0.7"/>
<rect x="320.5" y="253.5" width="10.6" height="10.5" fill="#000" stroke="#000" stroke-width="0.7"/>
<rect x="157.0" y="254.0" width="6.5" height="185.0" fill="#000" stroke="#000" stroke-width="0.7"/>
<rect x="157.0" y="439.0" width="6.5" height="29.5" fill="#fff"/>
<line x1="157.7" y1="439.0" x2="157.7" y2="468.5" stroke="#000" stroke-width="1.4" />
<line x1="162.8" y1="439.0" x2="162.8" y2="468.5" stroke="#000" stroke-width="1.4" />
<line x1="160.2" y1="439.0" x2="160.2" y2="468.5" stroke="#000" stroke-width="1.2" />
<rect x="322.9" y="264.0" width="8.1" height="32.0" fill="#fff"/>
<line x1="323.6" y1="264.0" x2="323.6" y2="296.0" stroke="#000" stroke-width="1.4" />
<line x1="330.3" y1="264.0" x2="330.3" y2="296.0" stroke="#000" stroke-width="1.4" />
<line x1="326.9" y1="264.0" x2="326.9" y2="296.0" stroke="#000" stroke-width="1.2" />
<rect x="322.9" y="295.0" width="7.1" height="3.0" fill="#000" stroke="#000" stroke-width="0.7"/>
<rect x="322.4" y="328.0" width="5.9" height="261.6" fill="#000" stroke="#000" stroke-width="0.7"/>
<rect x="317.2" y="584.6" width="11.1" height="5.0" fill="#000" stroke="#000" stroke-width="0.7"/>
<rect x="514.0" y="264.0" width="8.0" height="34.0" fill="#fff"/>
<line x1="514.7" y1="264.0" x2="514.7" y2="298.0" stroke="#000" stroke-width="1.4" />
<line x1="521.3" y1="264.0" x2="521.3" y2="298.0" stroke="#000" stroke-width="1.4" />
<line x1="518.0" y1="264.0" x2="518.0" y2="298.0" stroke="#000" stroke-width="1.2" />
<rect x="514.0" y="295.5" width="7.6" height="3.5" fill="#000" stroke="#000" stroke-width="0.7"/>
<line x1="514.6" y1="298.0" x2="514.6" y2="330.0" stroke="#000" stroke-width="1.2" />
<rect x="514.0" y="329.0" width="8.0" height="38.0" fill="#000" stroke="#000" stroke-width="0.7"/>
<rect x="330.0" y="359.0" width="58.6" height="8.0" fill="#fff"/>
<line x1="330.0" y1="359.7" x2="388.6" y2="359.7" stroke="#000" stroke-width="1.4" />
<line x1="330.0" y1="366.3" x2="388.6" y2="366.3" stroke="#000" stroke-width="1.4" />
<line x1="330.0" y1="363.0" x2="388.6" y2="363.0" stroke="#000" stroke-width="1.2" />
<rect x="358.8" y="359.0" width="2.4" height="8.0" fill="#000" stroke="#000" stroke-width="0.7"/>
<rect x="456.0" y="359.0" width="58.0" height="8.0" fill="#fff"/>
<line x1="456.0" y1="359.7" x2="514.0" y2="359.7" stroke="#000" stroke-width="1.4" />
<line x1="456.0" y1="366.3" x2="514.0" y2="366.3" stroke="#000" stroke-width="1.4" />
<line x1="456.0" y1="363.0" x2="514.0" y2="363.0" stroke="#000" stroke-width="1.2" />
<rect x="483.8" y="359.0" width="2.4" height="8.0" fill="#000" stroke="#000" stroke-width="0.7"/>
<rect x="388.6" y="332.7" width="67.3" height="34.3" fill="#fff" stroke="#000" stroke-width="1.2"/>
<rect x="392.0" y="334.5" width="61.0" height="32.5" fill="#000" stroke="#000" stroke-width="0.7"/>
<polygon points="412.7,348.0 434.3,348.0 439.4,365.7 403.8,365.7" fill="#fff" stroke="none" stroke-width="0"/>
<rect x="388.6" y="367.0" width="67.4" height="19.0" fill="#fff" stroke="#000" stroke-width="1.2"/>
<rect x="513.7" y="230.4" width="35.9" height="32.6" fill="#000" stroke="#000" stroke-width="0.7"/>
<rect x="639.5" y="230.4" width="36.5" height="32.6" fill="#000" stroke="#000" stroke-width="0.7"/>
<rect x="549.6" y="254.5" width="89.9" height="8.0" fill="#fff"/>
<line x1="549.6" y1="255.2" x2="639.5" y2="255.2" stroke="#000" stroke-width="1.4" />
<line x1="549.6" y1="261.8" x2="639.5" y2="261.8" stroke="#000" stroke-width="1.4" />
<line x1="549.6" y1="258.5" x2="639.5" y2="258.5" stroke="#000" stroke-width="1.2" />
<rect x="578.3" y="254.5" width="2.4" height="8.0" fill="#000" stroke="#000" stroke-width="0.7"/>
<rect x="608.8" y="254.5" width="2.4" height="8.0" fill="#000" stroke="#000" stroke-width="0.7"/>
<rect x="667.6" y="262.0" width="7.1" height="154.5" fill="#000" stroke="#000" stroke-width="0.7"/>
<rect x="663.8" y="411.4" width="14.0" height="5.8" fill="#000" stroke="#000" stroke-width="0.7"/>
<line x1="676.0" y1="257.3" x2="709.0" y2="257.3" stroke="#000" stroke-width="1.1" />
<rect x="708.8" y="256.4" width="115.2" height="7.8" fill="#fff"/>
<line x1="708.8" y1="257.1" x2="824.0" y2="257.1" stroke="#000" stroke-width="1.4" />
<line x1="708.8" y1="263.5" x2="824.0" y2="263.5" stroke="#000" stroke-width="1.4" />
<line x1="708.8" y1="260.3" x2="824.0" y2="260.3" stroke="#000" stroke-width="1.2" />
<rect x="707.6" y="256.4" width="2.4" height="7.8" fill="#000" stroke="#000" stroke-width="0.7"/>
<rect x="747.7" y="256.4" width="2.4" height="7.8" fill="#000" stroke="#000" stroke-width="0.7"/>
<rect x="785.8" y="256.4" width="2.4" height="7.8" fill="#000" stroke="#000" stroke-width="0.7"/>
<rect x="823.0" y="257.0" width="8.0" height="160.5" fill="#fff"/>
<line x1="823.7" y1="257.0" x2="823.7" y2="417.5" stroke="#000" stroke-width="1.4" />
<line x1="830.3" y1="257.0" x2="830.3" y2="417.5" stroke="#000" stroke-width="1.4" />
<line x1="827.0" y1="257.0" x2="827.0" y2="417.5" stroke="#000" stroke-width="1.2" />
<rect x="823.0" y="297.8" width="8.0" height="2.4" fill="#000" stroke="#000" stroke-width="0.7"/>
<rect x="823.0" y="335.8" width="8.0" height="2.4" fill="#000" stroke="#000" stroke-width="0.7"/>
<rect x="823.0" y="374.3" width="8.0" height="2.4" fill="#000" stroke="#000" stroke-width="0.7"/>
<line x1="677.8" y1="411.0" x2="708.0" y2="411.0" stroke="#000" stroke-width="1.1" />
<rect x="707.9" y="409.7" width="115.1" height="7.8" fill="#fff"/>
<line x1="707.9" y1="410.4" x2="823.0" y2="410.4" stroke="#000" stroke-width="1.4" />
<line x1="707.9" y1="416.8" x2="823.0" y2="416.8" stroke="#000" stroke-width="1.4" />
<line x1="707.9" y1="413.6" x2="823.0" y2="413.6" stroke="#000" stroke-width="1.2" />
<rect x="706.7" y="409.7" width="2.4" height="7.8" fill="#000" stroke="#000" stroke-width="0.7"/>
<rect x="823.0" y="409.7" width="8.0" height="7.8" fill="#000" stroke="#000" stroke-width="0.7"/>
<rect x="741.6" y="409.8" width="15.1" height="8.8" fill="#000" stroke="#000" stroke-width="0.7"/>
<rect x="746.0" y="409.8" width="8.8" height="19.5" fill="#000" stroke="#000" stroke-width="0.7"/>
<rect x="745.5" y="429.3" width="9.5" height="112.7" fill="#fff"/>
<line x1="746.2" y1="429.3" x2="746.2" y2="542.0" stroke="#000" stroke-width="1.4" />
<line x1="754.3" y1="429.3" x2="754.3" y2="542.0" stroke="#000" stroke-width="1.4" />
<line x1="750.2" y1="429.3" x2="750.2" y2="542.0" stroke="#000" stroke-width="1.2" />
<rect x="745.5" y="465.8" width="9.5" height="2.4" fill="#000" stroke="#000" stroke-width="0.7"/>
<rect x="745.5" y="502.8" width="9.5" height="2.4" fill="#000" stroke="#000" stroke-width="0.7"/>
<rect x="745.5" y="542.0" width="9.0" height="108.0" fill="#000" stroke="#000" stroke-width="0.7"/>
<polyline points="517.8,557.4 517.8,449.5 553.3,414.0 634.6,414.0" fill="none" stroke="#000" stroke-width="5" />
<polyline points="544.4,491.4 544.4,463.0 567.0,440.6 578.0,440.6" fill="none" stroke="#000" stroke-width="1.2" />
<polyline points="531.7,527.0 531.7,457.0 561.0,428.0 577.5,428.0" fill="none" stroke="#000" stroke-width="1.2" stroke-dasharray="8,4"/>
<rect x="578.2" y="417.8" width="31.5" height="24.1" fill="none" stroke="#000" stroke-width="1.3"/>
<circle cx="587.1" cy="424.1" r="3.0" fill="none" stroke="#000" stroke-width="1.1"/>
<circle cx="601.6" cy="424.1" r="3.0" fill="none" stroke="#000" stroke-width="1.1"/>
<circle cx="587.1" cy="435.0" r="3.0" fill="none" stroke="#000" stroke-width="1.1"/>
<circle cx="601.6" cy="435.0" r="3.0" fill="none" stroke="#000" stroke-width="1.1"/>
<rect x="609.7" y="416.5" width="16.5" height="12.5" fill="none" stroke="#000" stroke-width="1.1"/>
<rect x="609.7" y="429.0" width="16.5" height="13.0" fill="none" stroke="#000" stroke-width="1.1"/>
<rect x="520.3" y="491.4" width="24.1" height="35.6" fill="none" stroke="#000" stroke-width="1.2"/>
<rect x="544.4" y="492.5" width="5.1" height="33.0" fill="none" stroke="#000" stroke-width="1.2"/>
<rect x="520.3" y="527.0" width="24.1" height="26.6" fill="none" stroke="#000" stroke-width="1.2"/>
<text x="528.2" y="543.5" font-size="15" font-weight="normal" textLength="9.0" lengthAdjust="spacingAndGlyphs">P</text>
<rect x="587.6" y="482.5" width="38.6" height="74.9" fill="none" stroke="#000" stroke-width="1.2"/>
<rect x="590.0" y="494.0" width="21.7" height="33.0" fill="none" stroke="#000" stroke-width="1.2"/>
<rect x="592.0" y="496.0" width="17.5" height="14.0" fill="none" stroke="#000" stroke-width="1.1"/>
<rect x="592.0" y="512.0" width="17.5" height="13.0" fill="none" stroke="#000" stroke-width="1.1"/>
<rect x="587.6" y="529.5" width="24.1" height="26.7" fill="none" stroke="#000" stroke-width="1.6"/>
<line x1="588.0" y1="530.0" x2="611.5" y2="556.0" stroke="#000" stroke-width="1" />
<line x1="611.5" y1="530.0" x2="588.0" y2="556.0" stroke="#000" stroke-width="1" />
<line x1="611.7" y1="530.0" x2="611.7" y2="556.0" stroke="#000" stroke-width="1.2" stroke-dasharray="3,2"/>
<rect x="514.9" y="603.0" width="72.4" height="3.5" fill="#fff" stroke="#000" stroke-width="1.2"/>
<rect x="587.3" y="602.0" width="83.7" height="5.3" fill="#000" stroke="#000" stroke-width="0.7"/>
<rect x="668.5" y="593.0" width="5.1" height="19.4" fill="#000" stroke="#000" stroke-width="0.7"/>
<line x1="517.5" y1="606.5" x2="517.5" y2="645.0" stroke="#000" stroke-width="1.1" />
<line x1="527.1" y1="606.5" x2="527.1" y2="645.0" stroke="#000" stroke-width="1.1" />
<line x1="536.7" y1="606.5" x2="536.7" y2="645.0" stroke="#000" stroke-width="1.1" />
<line x1="546.3" y1="606.5" x2="546.3" y2="645.0" stroke="#000" stroke-width="1.1" />
<line x1="555.9" y1="606.5" x2="555.9" y2="645.0" stroke="#000" stroke-width="1.1" />
<line x1="565.5" y1="606.5" x2="565.5" y2="645.0" stroke="#000" stroke-width="1.1" />
<line x1="575.1" y1="606.5" x2="575.1" y2="645.0" stroke="#000" stroke-width="1.1" />
<line x1="584.7" y1="606.5" x2="584.7" y2="645.0" stroke="#000" stroke-width="1.1" />
<line x1="594.3" y1="606.5" x2="594.3" y2="645.0" stroke="#000" stroke-width="1.1" />
<line x1="603.9" y1="606.5" x2="603.9" y2="645.0" stroke="#000" stroke-width="1.1" />
<line x1="613.5" y1="606.5" x2="613.5" y2="645.0" stroke="#000" stroke-width="1.1" />
<line x1="623.1" y1="606.5" x2="623.1" y2="645.0" stroke="#000" stroke-width="1.1" />
<line x1="632.7" y1="606.5" x2="632.7" y2="645.0" stroke="#000" stroke-width="1.1" />
<line x1="492.0" y1="626.3" x2="549.0" y2="626.3" stroke="#000" stroke-width="1.1" />
<polygon points="546.7,613.6 555.5,625.7 546.7,637.8" fill="#000" stroke="none" stroke-width="0"/>
<rect x="640.6" y="606.0" width="5.1" height="39.0" fill="#000" stroke="#000" stroke-width="0.7"/>
<line x1="647.0" y1="610.0" x2="666.0" y2="610.0" stroke="#000" stroke-width="1.4" />
<line x1="647.0" y1="613.2" x2="666.0" y2="613.2" stroke="#000" stroke-width="1.4" />
<line x1="647.0" y1="616.4" x2="666.0" y2="616.4" stroke="#000" stroke-width="1.4" />
<line x1="647.0" y1="619.6" x2="666.0" y2="619.6" stroke="#000" stroke-width="1.4" />
<line x1="647.0" y1="622.8" x2="666.0" y2="622.8" stroke="#000" stroke-width="1.4" />
<line x1="647.0" y1="626.0" x2="666.0" y2="626.0" stroke="#000" stroke-width="1.4" />
<path d="M647.0,629.2 C653.6,628.5 658.4,634.8 666.0,634.1" fill="none" stroke="#000" stroke-width="1.2"/>
<path d="M647.0,632.4 C653.6,630.7 658.4,628.9 666.0,627.1" fill="none" stroke="#000" stroke-width="1.2"/>
<path d="M647.0,635.6 C653.6,634.9 658.4,641.5 666.0,640.8" fill="none" stroke="#000" stroke-width="1.2"/>
<line x1="647.0" y1="638.8" x2="666.0" y2="638.8" stroke="#000" stroke-width="1.4" />
<line x1="647.0" y1="642.0" x2="666.0" y2="642.0" stroke="#000" stroke-width="1.4" />
<rect x="466.7" y="644.6" width="209.3" height="7.1" fill="#000" stroke="#000" stroke-width="0.7"/>
<polyline points="468.0,648.0 456.5,657.5" fill="none" stroke="#000" stroke-width="5" />
<rect x="669.4" y="553.3" width="180.4" height="5.7" fill="#000" stroke="#000" stroke-width="0.7"/>
<rect x="668.9" y="553.6" width="5.1" height="8.4" fill="#000" stroke="#000" stroke-width="0.7"/>
<rect x="844.0" y="553.6" width="5.8" height="101.2" fill="#000" stroke="#000" stroke-width="0.7"/>
<rect x="746.2" y="542.0" width="7.5" height="107.0" fill="#000" stroke="#000" stroke-width="0.7"/>
<rect x="709.2" y="646.6" width="58.6" height="7.1" fill="#000" stroke="#000" stroke-width="0.7"/>
<line x1="767.8" y1="652.5" x2="830.0" y2="652.5" stroke="#000" stroke-width="1.2" />
<rect x="829.3" y="648.6" width="20.5" height="5.1" fill="#000" stroke="#000" stroke-width="0.7"/>
<rect x="660.0" y="644.3" width="16.4" height="8.2" fill="#000" stroke="#000" stroke-width="0.7"/>
<rect x="669.4" y="652.5" width="45.6" height="11.7" fill="none" stroke="#000" stroke-width="1.2"/>
<rect x="848.7" y="649.0" width="39.8" height="49.2" fill="none" stroke="#000" stroke-width="1.2"/>
<line x1="849.0" y1="654.8" x2="849.0" y2="690.0" stroke="#000" stroke-width="1.2" />
<rect x="719.8" y="561.0" width="25.7" height="28.0" fill="none" stroke="#000" stroke-width="1.2"/>
<rect x="722.5" y="563.5" width="20.5" height="23.0" fill="none" stroke="#000" stroke-width="1.1"/>
<rect x="719.8" y="592.7" width="25.7" height="28.2" fill="none" stroke="#000" stroke-width="1.2"/>
<rect x="719.8" y="623.0" width="25.7" height="22.5" fill="none" stroke="#000" stroke-width="1.2"/>
<line x1="734.5" y1="561.0" x2="734.5" y2="645.0" stroke="#000" stroke-width="1.2" stroke-dasharray="6,3"/>
<rect x="583.4" y="649.4" width="7.9" height="278.1" fill="#000" stroke="#000" stroke-width="0.7"/>
<rect x="583.4" y="921.3" width="28.2" height="6.2" fill="#000" stroke="#000" stroke-width="0.7"/>
<rect x="605.3" y="897.8" width="6.3" height="29.7" fill="#000" stroke="#000" stroke-width="0.7"/>
<rect x="822.5" y="897.8" width="4.7" height="29.7" fill="#000" stroke="#000" stroke-width="0.7"/>
<rect x="822.5" y="921.3" width="26.5" height="6.2" fill="#000" stroke="#000" stroke-width="0.7"/>
<rect x="844.0" y="690.0" width="5.8" height="237.5" fill="#000" stroke="#000" stroke-width="0.7"/>
<line x1="611.6" y1="896.7" x2="822.5" y2="896.7" stroke="#000" stroke-width="2.2" />
<polyline points="579.5,827.0 579.5,930.6 613.5,930.6 613.5,897.8" fill="none" stroke="#000" stroke-width="1.2" />
<polyline points="820.5,897.8 820.5,930.6 852.0,930.6 852.0,887.0" fill="none" stroke="#000" stroke-width="1.2" />
<line x1="582.5" y1="930.6" x2="582.5" y2="1172.5" stroke="#000" stroke-width="1.4" />
<line x1="830.3" y1="930.6" x2="830.3" y2="1172.0" stroke="#000" stroke-width="1.4" />
<rect x="402.0" y="708.0" width="6.0" height="97.5" fill="#000" stroke="#000" stroke-width="0.7"/>
<polyline points="404.0,709.0 416.7,698.4" fill="none" stroke="#000" stroke-width="5" />
<rect x="398.0" y="804.0" width="76.5" height="41.2" fill="#000" stroke="#000" stroke-width="0.7"/>
<polygon points="407.6,803.9 416.4,804.0 418.3,808.5 424.2,809.3 426.0,813.0 430.0,820.0 431.0,826.0 433.0,828.0 451.0,828.0 452.3,822.0 456.0,818.0 458.5,810.0 464.0,809.0 466.0,805.0 474.0,804.4 474.0,790.0 407.6,790.0" fill="#fff" stroke="none" stroke-width="0"/>
<line x1="424.0" y1="809.3" x2="451.5" y2="809.3" stroke="#000" stroke-width="1.1" />
<rect x="407.5" y="790.5" width="67.0" height="13.5" fill="none" stroke="#000" stroke-width="1.2"/>
<rect x="476.0" y="818.0" width="102.4" height="8.0" fill="#fff"/>
<line x1="476.0" y1="818.7" x2="578.4" y2="818.7" stroke="#000" stroke-width="1.4" />
<line x1="476.0" y1="825.3" x2="578.4" y2="825.3" stroke="#000" stroke-width="1.4" />
<line x1="476.0" y1="822.0" x2="578.4" y2="822.0" stroke="#000" stroke-width="1.2" />
<rect x="475.3" y="818.0" width="2.4" height="8.0" fill="#000" stroke="#000" stroke-width="0.7"/>
<rect x="511.6" y="818.0" width="2.4" height="8.0" fill="#000" stroke="#000" stroke-width="0.7"/>
<rect x="545.2" y="818.0" width="2.4" height="8.0" fill="#000" stroke="#000" stroke-width="0.7"/>
<rect x="576.8" y="818.0" width="2.4" height="8.0" fill="#000" stroke="#000" stroke-width="0.7"/>
<line x1="474.5" y1="827.4" x2="579.5" y2="827.4" stroke="#000" stroke-width="1.2" />
<rect x="320.0" y="773.5" width="6.8" height="145.5" fill="#000" stroke="#000" stroke-width="0.7"/>
<line x1="331.0" y1="813.7" x2="331.0" y2="919.0" stroke="#000" stroke-width="1.2" />
<line x1="326.8" y1="813.7" x2="402.0" y2="813.7" stroke="#000" stroke-width="1.2" />
<rect x="372.0" y="807.0" width="21.8" height="8.5" fill="#fff"/>
<line x1="372.0" y1="807.7" x2="393.8" y2="807.7" stroke="#000" stroke-width="1.4" />
<line x1="372.0" y1="814.8" x2="393.8" y2="814.8" stroke="#000" stroke-width="1.4" />
<line x1="372.0" y1="811.2" x2="393.8" y2="811.2" stroke="#000" stroke-width="1.2" />
<line x1="436.2" y1="845.0" x2="436.2" y2="919.0" stroke="#000" stroke-width="1.2" />
<rect x="399.3" y="883.5" width="35.5" height="35.5" fill="none" stroke="#000" stroke-width="1.2"/>
<rect x="401.5" y="885.7" width="31.1" height="31.1" fill="#000" stroke="#000" stroke-width="0.7"/>
<line x1="331.0" y1="906.7" x2="399.0" y2="906.7" stroke="#000" stroke-width="1.2" />
<polygon points="357.5,840.5 341.3,868.4 373.9,868.4" fill="#000" stroke="none" stroke-width="0"/>
<rect x="312.0" y="920.5" width="105.0" height="12.3" fill="none" stroke="#000" stroke-width="1.2"/>
<line x1="331.0" y1="919.0" x2="436.0" y2="919.0" stroke="#000" stroke-width="1.2" />
<line x1="327.0" y1="708.0" x2="403.0" y2="708.0" stroke="#000" stroke-width="1.2" />
<line x1="326.4" y1="932.8" x2="326.4" y2="1047.4" stroke="#000" stroke-width="1.4" />
<line x1="364.5" y1="932.8" x2="364.5" y2="1047.4" stroke="#000" stroke-width="1.4" />
<line x1="402.0" y1="932.8" x2="402.0" y2="1047.4" stroke="#000" stroke-width="1.4" />
<line x1="326.4" y1="1047.4" x2="326.4" y2="1123.3" stroke="#000" stroke-width="1.4" />
<line x1="364.5" y1="1047.4" x2="364.5" y2="1123.3" stroke="#000" stroke-width="1.4" />
<line x1="402.0" y1="1047.4" x2="402.0" y2="1123.3" stroke="#000" stroke-width="1.4" />
<line x1="439.5" y1="1047.4" x2="439.5" y2="1123.3" stroke="#000" stroke-width="1.4" />
<line x1="477.3" y1="1047.4" x2="477.3" y2="1123.3" stroke="#000" stroke-width="1.4" />
<line x1="515.3" y1="1047.4" x2="515.3" y2="1123.3" stroke="#000" stroke-width="1.4" />
<line x1="553.4" y1="1047.4" x2="553.4" y2="1123.3" stroke="#000" stroke-width="1.4" />
<line x1="326.4" y1="971.2" x2="402.0" y2="971.2" stroke="#000" stroke-width="1.4" />
<line x1="326.4" y1="1009.3" x2="402.0" y2="1009.3" stroke="#000" stroke-width="1.4" />
<line x1="326.4" y1="1047.4" x2="582.5" y2="1047.4" stroke="#000" stroke-width="1.4" />
<line x1="326.4" y1="1085.5" x2="582.5" y2="1085.5" stroke="#000" stroke-width="1.4" />
<line x1="326.4" y1="1123.3" x2="582.5" y2="1123.3" stroke="#000" stroke-width="1.4" />
<rect x="155.0" y="643.0" width="7.0" height="251.0" fill="#000" stroke="#000" stroke-width="0.7"/>
<rect x="154.0" y="866.0" width="27.5" height="28.0" fill="#000" stroke="#000" stroke-width="0.7"/>
<rect x="181.5" y="866.0" width="90.4" height="8.0" fill="#fff"/>
<line x1="181.5" y1="866.7" x2="271.9" y2="866.7" stroke="#000" stroke-width="1.4" />
<line x1="181.5" y1="873.3" x2="271.9" y2="873.3" stroke="#000" stroke-width="1.4" />
<line x1="181.5" y1="870.0" x2="271.9" y2="870.0" stroke="#000" stroke-width="1.2" />
<rect x="210.8" y="866.0" width="2.4" height="8.0" fill="#000" stroke="#000" stroke-width="0.7"/>
<rect x="239.8" y="866.0" width="2.4" height="8.0" fill="#000" stroke="#000" stroke-width="0.7"/>
<rect x="271.3" y="866.8" width="56.2" height="28.5" fill="#000" stroke="#000" stroke-width="0.7"/>
<rect x="296.0" y="895.3" width="31.5" height="21.4" fill="#000" stroke="#000" stroke-width="0.7"/>
<polyline points="292.7,895.3 292.7,920.0 331.3,920.0" fill="none" stroke="#000" stroke-width="1.2" />
<rect x="291.4" y="856.8" width="5.5" height="10.2" fill="#000" stroke="#000" stroke-width="0.7"/>
<rect x="161.9" y="709.8" width="97.1" height="5.9" fill="#000" stroke="#000" stroke-width="0.7"/>
<rect x="250.4" y="707.6" width="4.8" height="4.4" fill="#000" stroke="#000" stroke-width="0.7"/>
<rect x="292.7" y="643.7" width="34.2" height="4.9" fill="#000" stroke="#000" stroke-width="0.7"/>
<rect x="321.0" y="643.7" width="5.9" height="80.0" fill="#000" stroke="#000" stroke-width="0.7"/>
<rect x="292.7" y="643.7" width="4.9" height="9.7" fill="#000" stroke="#000" stroke-width="0.7"/>
<line x1="297.5" y1="648.0" x2="297.5" y2="710.0" stroke="#000" stroke-width="1.2" />
<rect x="292.0" y="703.2" width="5.6" height="91.8" fill="#000" stroke="#000" stroke-width="0.7"/>
<rect x="288.4" y="709.8" width="38.5" height="5.9" fill="#000" stroke="#000" stroke-width="0.7"/>
<text x="304.6" y="684.7" font-size="15" font-weight="normal" textLength="7.2" lengthAdjust="spacingAndGlyphs">L</text>
<path d="M299.0,718.0 C306.2,716.4 311.3,715.9 319.5,714.4" fill="none" stroke="#000" stroke-width="1.2"/>
<line x1="299.0" y1="721.3" x2="319.5" y2="721.3" stroke="#000" stroke-width="1.4" />
<line x1="299.0" y1="724.6" x2="319.5" y2="724.6" stroke="#000" stroke-width="1.4" />
<line x1="299.0" y1="727.9" x2="319.5" y2="727.9" stroke="#000" stroke-width="1.4" />
<line x1="299.0" y1="731.2" x2="319.5" y2="731.2" stroke="#000" stroke-width="1.4" />
<path d="M299.0,734.5 C306.2,732.8 311.3,731.0 319.5,729.3" fill="none" stroke="#000" stroke-width="1.2"/>
<line x1="299.0" y1="737.8" x2="319.5" y2="737.8" stroke="#000" stroke-width="1.4" />
<line x1="299.0" y1="741.1" x2="319.5" y2="741.1" stroke="#000" stroke-width="1.4" />
<line x1="299.0" y1="744.4" x2="319.5" y2="744.4" stroke="#000" stroke-width="1.4" />
<line x1="299.0" y1="747.7" x2="319.5" y2="747.7" stroke="#000" stroke-width="1.4" />
<path d="M299.0,751.0 C306.2,749.4 311.3,748.2 319.5,746.5" fill="none" stroke="#000" stroke-width="1.2"/>
<path d="M299.0,754.3 C306.2,753.4 311.3,758.3 319.5,757.4" fill="none" stroke="#000" stroke-width="1.2"/>
<path d="M299.0,757.6 C306.2,756.7 311.3,761.5 319.5,760.6" fill="none" stroke="#000" stroke-width="1.2"/>
<line x1="299.0" y1="760.9" x2="319.5" y2="760.9" stroke="#000" stroke-width="1.4" />
<line x1="299.0" y1="764.2" x2="319.5" y2="764.2" stroke="#000" stroke-width="1.4" />
<line x1="299.0" y1="767.5" x2="319.5" y2="767.5" stroke="#000" stroke-width="1.4" />
<line x1="299.0" y1="770.8" x2="319.5" y2="770.8" stroke="#000" stroke-width="1.4" />
<rect x="297.6" y="780.0" width="23.4" height="4.0" fill="#000" stroke="#000" stroke-width="0.7"/>
<line x1="299.0" y1="786.0" x2="319.5" y2="786.0" stroke="#000" stroke-width="1.4" />
<line x1="299.0" y1="789.3" x2="319.5" y2="789.3" stroke="#000" stroke-width="1.4" />
<path d="M299.0,792.6 C306.2,791.0 311.3,790.3 319.5,788.7" fill="none" stroke="#000" stroke-width="1.2"/>
<path d="M299.0,795.9 C306.2,795.2 311.3,801.7 319.5,801.0" fill="none" stroke="#000" stroke-width="1.2"/>
<path d="M299.0,799.2 C306.2,797.5 311.3,796.3 319.5,794.7" fill="none" stroke="#000" stroke-width="1.2"/>
<line x1="299.0" y1="802.5" x2="319.5" y2="802.5" stroke="#000" stroke-width="1.4" />
<path d="M299.0,805.8 C306.2,805.1 311.3,811.1 319.5,810.4" fill="none" stroke="#000" stroke-width="1.2"/>
<line x1="299.0" y1="809.1" x2="319.5" y2="809.1" stroke="#000" stroke-width="1.4" />
<line x1="299.0" y1="812.4" x2="319.5" y2="812.4" stroke="#000" stroke-width="1.4" />
<line x1="299.0" y1="815.7" x2="319.5" y2="815.7" stroke="#000" stroke-width="1.4" />
<line x1="299.0" y1="819.0" x2="319.5" y2="819.0" stroke="#000" stroke-width="1.4" />
<line x1="299.0" y1="822.3" x2="319.5" y2="822.3" stroke="#000" stroke-width="1.4" />
<line x1="299.0" y1="825.6" x2="319.5" y2="825.6" stroke="#000" stroke-width="1.4" />
<line x1="299.0" y1="828.9" x2="319.5" y2="828.9" stroke="#000" stroke-width="1.4" />
<line x1="299.0" y1="832.2" x2="319.5" y2="832.2" stroke="#000" stroke-width="1.4" />
<line x1="299.0" y1="835.5" x2="319.5" y2="835.5" stroke="#000" stroke-width="1.4" />
<line x1="299.0" y1="838.8" x2="319.5" y2="838.8" stroke="#000" stroke-width="1.4" />
<line x1="299.0" y1="842.1" x2="319.5" y2="842.1" stroke="#000" stroke-width="1.4" />
<line x1="299.0" y1="845.4" x2="319.5" y2="845.4" stroke="#000" stroke-width="1.4" />
<line x1="299.0" y1="848.7" x2="319.5" y2="848.7" stroke="#000" stroke-width="1.4" />
<path d="M299.0,852.0 C306.2,850.4 311.3,850.0 319.5,848.4" fill="none" stroke="#000" stroke-width="1.2"/>
<path d="M299.0,855.3 C306.2,854.4 311.3,859.6 319.5,858.7" fill="none" stroke="#000" stroke-width="1.2"/>
<line x1="299.0" y1="858.6" x2="319.5" y2="858.6" stroke="#000" stroke-width="1.4" />
<line x1="299.0" y1="861.9" x2="319.5" y2="861.9" stroke="#000" stroke-width="1.4" />
<line x1="299.0" y1="865.2" x2="319.5" y2="865.2" stroke="#000" stroke-width="1.4" />
<rect x="96.6" y="471.7" width="134.0" height="6.8" fill="#000" stroke="#000" stroke-width="0.7"/>
<polyline points="229.0,475.0 253.5,500.0 253.5,508.0" fill="none" stroke="#000" stroke-width="6" />
<rect x="96.6" y="471.7" width="7.4" height="177.3" fill="#000" stroke="#000" stroke-width="0.7"/>
<rect x="96.6" y="484.6" width="7.4" height="53.9" fill="#fff"/>
<line x1="97.3" y1="484.6" x2="97.3" y2="538.5" stroke="#000" stroke-width="1.4" />
<line x1="103.3" y1="484.6" x2="103.3" y2="538.5" stroke="#000" stroke-width="1.4" />
<line x1="100.3" y1="484.6" x2="100.3" y2="538.5" stroke="#000" stroke-width="1.2" />
<rect x="96.6" y="509.8" width="7.4" height="2.4" fill="#000" stroke="#000" stroke-width="0.7"/>
<rect x="96.6" y="643.0" width="158.6" height="6.4" fill="#000" stroke="#000" stroke-width="0.7"/>
<line x1="169.7" y1="478.5" x2="169.7" y2="501.6" stroke="#000" stroke-width="1.3" />
<line x1="169.1" y1="501.0" x2="249.0" y2="501.0" stroke="#000" stroke-width="1.3" />
<ellipse cx="186" cy="489.5" rx="10.5" ry="8" fill="none" stroke="#000" stroke-width="1.2"/>
<line x1="202.5" y1="479.0" x2="202.5" y2="501.0" stroke="#000" stroke-width="1.2" stroke-dasharray="4,3"/>
<line x1="227.5" y1="479.0" x2="227.5" y2="501.0" stroke="#000" stroke-width="1.2" stroke-dasharray="4,3"/>
<polygon points="148.6,480.0 169.7,499.8 125.2,543.2 104.0,522.0" fill="none" stroke="#000" stroke-width="1.2"/>
<rect x="-9" y="-21" width="18" height="42" rx="7" transform="translate(137,511.5) rotate(45)" fill="none" stroke="#000" stroke-width="1.2"/>
<polyline points="104.0,545.5 130.0,545.5 140.4,556.0 140.4,600.6" fill="none" stroke="#000" stroke-width="1.2" />
<line x1="104.0" y1="587.7" x2="140.4" y2="587.7" stroke="#000" stroke-width="1.2" />
<line x1="104.0" y1="545.5" x2="140.0" y2="587.0" stroke="#000" stroke-width="1" />
<line x1="140.0" y1="556.0" x2="104.0" y2="587.0" stroke="#000" stroke-width="1" />
<line x1="122.0" y1="545.5" x2="122.0" y2="587.7" stroke="#000" stroke-width="0.8" />
<rect x="104.0" y="600.6" width="42.2" height="5.9" fill="#000" stroke="#000" stroke-width="0.7"/>
<path d="M107,613 Q104,625 107,635 Q125,632 136,626 Q138,622 134,619 Q120,614 107,613 Z" fill="none" stroke="#000" stroke-width="1.2"/>
<rect x="173.0" y="560.8" width="6.0" height="82.2" fill="#000" stroke="#000" stroke-width="0.7"/>
<polyline points="175.0,562.0 194.0,544.0" fill="none" stroke="#000" stroke-width="5" />
<rect x="193.0" y="542.0" width="8.0" height="4.0" fill="#000" stroke="#000" stroke-width="0.7"/>
<path d="M179.5,556.5 C186.3,555.6 191.2,560.7 199.0,559.8" fill="none" stroke="#000" stroke-width="1.2"/>
<line x1="179.5" y1="559.8" x2="199.0" y2="559.8" stroke="#000" stroke-width="1.4" />
<line x1="179.5" y1="563.1" x2="199.0" y2="563.1" stroke="#000" stroke-width="1.4" />
<line x1="179.5" y1="566.4" x2="199.0" y2="566.4" stroke="#000" stroke-width="1.4" />
<line x1="179.5" y1="569.7" x2="199.0" y2="569.7" stroke="#000" stroke-width="1.4" />
<line x1="179.5" y1="573.0" x2="199.0" y2="573.0" stroke="#000" stroke-width="1.4" />
<line x1="179.5" y1="576.3" x2="199.0" y2="576.3" stroke="#000" stroke-width="1.4" />
<line x1="179.5" y1="579.6" x2="199.0" y2="579.6" stroke="#000" stroke-width="1.4" />
<path d="M179.5,582.9 C186.3,582.1 191.2,587.9 199.0,587.1" fill="none" stroke="#000" stroke-width="1.2"/>
<line x1="179.5" y1="586.2" x2="199.0" y2="586.2" stroke="#000" stroke-width="1.4" />
<line x1="179.5" y1="589.5" x2="199.0" y2="589.5" stroke="#000" stroke-width="1.4" />
<line x1="179.5" y1="592.8" x2="199.0" y2="592.8" stroke="#000" stroke-width="1.4" />
<path d="M179.5,596.1 C186.3,595.2 191.2,600.3 199.0,599.5" fill="none" stroke="#000" stroke-width="1.2"/>
<line x1="179.5" y1="599.4" x2="199.0" y2="599.4" stroke="#000" stroke-width="1.4" />
<line x1="179.5" y1="602.7" x2="199.0" y2="602.7" stroke="#000" stroke-width="1.4" />
<path d="M179.5,606.0 C186.3,604.5 191.2,604.1 199.0,602.6" fill="none" stroke="#000" stroke-width="1.2"/>
<line x1="179.5" y1="609.3" x2="199.0" y2="609.3" stroke="#000" stroke-width="1.4" />
<path d="M179.5,612.6 C186.3,610.9 191.2,609.2 199.0,607.5" fill="none" stroke="#000" stroke-width="1.2"/>
<path d="M179.5,615.9 C186.3,615.2 191.2,621.4 199.0,620.7" fill="none" stroke="#000" stroke-width="1.2"/>
<line x1="179.5" y1="619.2" x2="199.0" y2="619.2" stroke="#000" stroke-width="1.4" />
<line x1="179.5" y1="622.5" x2="199.0" y2="622.5" stroke="#000" stroke-width="1.4" />
<line x1="179.5" y1="625.8" x2="199.0" y2="625.8" stroke="#000" stroke-width="1.4" />
<line x1="179.5" y1="629.1" x2="199.0" y2="629.1" stroke="#000" stroke-width="1.4" />
<line x1="179.5" y1="632.4" x2="199.0" y2="632.4" stroke="#000" stroke-width="1.4" />
<line x1="179.5" y1="635.7" x2="199.0" y2="635.7" stroke="#000" stroke-width="1.4" />
<line x1="179.5" y1="639.0" x2="199.0" y2="639.0" stroke="#000" stroke-width="1.4" />
<line x1="189.0" y1="549.8" x2="199.0" y2="549.8" stroke="#000" stroke-width="1.4" />
<line x1="185.0" y1="553.1" x2="199.0" y2="553.1" stroke="#000" stroke-width="1.4" />
<rect x="228.3" y="545.5" width="22.2" height="21.1" fill="none" stroke="#000" stroke-width="1.2"/>
<text x="239.6" y="559.4" font-size="15" font-weight="normal" textLength="7.2" lengthAdjust="spacingAndGlyphs">L</text>
<path d="M229.5,570.0 C236.2,568.3 240.9,566.9 248.5,565.2" fill="none" stroke="#000" stroke-width="1.2"/>
<line x1="229.5" y1="573.3" x2="248.5" y2="573.3" stroke="#000" stroke-width="1.4" />
<path d="M229.5,576.6 C236.2,575.0 240.9,574.2 248.5,572.6" fill="none" stroke="#000" stroke-width="1.2"/>
<line x1="229.5" y1="579.9" x2="248.5" y2="579.9" stroke="#000" stroke-width="1.4" />
<line x1="229.5" y1="583.2" x2="248.5" y2="583.2" stroke="#000" stroke-width="1.4" />
<line x1="229.5" y1="586.5" x2="248.5" y2="586.5" stroke="#000" stroke-width="1.4" />
<path d="M229.5,589.8 C236.2,589.0 240.9,594.5 248.5,593.7" fill="none" stroke="#000" stroke-width="1.2"/>
<line x1="229.5" y1="593.1" x2="248.5" y2="593.1" stroke="#000" stroke-width="1.4" />
<line x1="229.5" y1="596.4" x2="248.5" y2="596.4" stroke="#000" stroke-width="1.4" />
<path d="M229.5,599.7 C236.2,598.0 240.9,596.3 248.5,594.6" fill="none" stroke="#000" stroke-width="1.2"/>
<line x1="229.5" y1="603.0" x2="248.5" y2="603.0" stroke="#000" stroke-width="1.4" />
<line x1="229.5" y1="606.3" x2="248.5" y2="606.3" stroke="#000" stroke-width="1.4" />
<path d="M229.5,609.6 C236.2,608.8 240.9,614.2 248.5,613.3" fill="none" stroke="#000" stroke-width="1.2"/>
<line x1="229.5" y1="612.9" x2="248.5" y2="612.9" stroke="#000" stroke-width="1.4" />
<line x1="229.5" y1="616.2" x2="248.5" y2="616.2" stroke="#000" stroke-width="1.4" />
<line x1="229.5" y1="619.5" x2="248.5" y2="619.5" stroke="#000" stroke-width="1.4" />
<line x1="229.5" y1="622.8" x2="248.5" y2="622.8" stroke="#000" stroke-width="1.4" />
<line x1="229.5" y1="626.1" x2="248.5" y2="626.1" stroke="#000" stroke-width="1.4" />
<line x1="229.5" y1="629.4" x2="248.5" y2="629.4" stroke="#000" stroke-width="1.4" />
<line x1="229.5" y1="632.7" x2="248.5" y2="632.7" stroke="#000" stroke-width="1.4" />
<path d="M229.5,636.0 C236.2,634.4 240.9,633.4 248.5,631.8" fill="none" stroke="#000" stroke-width="1.2"/>
<line x1="229.5" y1="639.3" x2="248.5" y2="639.3" stroke="#000" stroke-width="1.4" />
<rect x="250.5" y="536.0" width="5.9" height="143.0" fill="#000" stroke="#000" stroke-width="0.7"/>
<rect x="255.0" y="582.0" width="4.5" height="6.0" fill="#000" stroke="#000" stroke-width="0.7"/>
<rect x="163.4" y="649.3" width="27.8" height="60.5" fill="none" stroke="#000" stroke-width="1.2"/>
<rect x="166" y="651.5" width="22.5" height="56" rx="8" fill="none" stroke="#000" stroke-width="1.1"/>
<rect x="191.0" y="649.3" width="2.7" height="60.5" fill="#000" stroke="#000" stroke-width="0.7"/>
<rect x="196.0" y="649.5" width="23.0" height="7.5" fill="none" stroke="#000" stroke-width="1.1"/>
<ellipse cx="207.5" cy="668" rx="9.5" ry="12" fill="none" stroke="#000" stroke-width="1.1"/>
<rect x="220.0" y="649.3" width="29.4" height="20.5" fill="none" stroke="#000" stroke-width="1.1"/>
<ellipse cx="234.7" cy="659.5" rx="10.5" ry="8" fill="none" stroke="#000" stroke-width="1.2"/>
<text x="433.62" y="143.1" font-size="24" font-weight="bold" textLength="60.89" lengthAdjust="spacingAndGlyphs">Patio</text>
<text x="360.59" y="165.4" font-size="24" font-weight="bold" textLength="44.53" lengthAdjust="spacingAndGlyphs">Spa</text>
<text x="689.72" y="145.6" font-size="24" font-weight="bold" textLength="59.77" lengthAdjust="spacingAndGlyphs">Deck</text>
<text x="186.47" y="318.8" font-size="24" font-weight="bold" textLength="27.02" lengthAdjust="spacingAndGlyphs">M.</text>
<text x="225.60" y="318.8" font-size="24" font-weight="bold" textLength="58.89" lengthAdjust="spacingAndGlyphs">Suite</text>
<text x="532.00" y="320.8" font-size="24" font-weight="bold" textLength="70.77" lengthAdjust="spacingAndGlyphs">Dining</text>
<text x="690.04" y="321.5" font-size="24" font-weight="bold" textLength="84.58" lengthAdjust="spacingAndGlyphs">Screen</text>
<text x="689.01" y="346.9" font-size="24" font-weight="bold" textLength="70.95" lengthAdjust="spacingAndGlyphs">Porch</text>
<text x="342.52" y="475.5" font-size="24" font-weight="bold" textLength="70.04" lengthAdjust="spacingAndGlyphs">Living</text>
<text x="422.95" y="475.5" font-size="24" font-weight="bold" textLength="69.57" lengthAdjust="spacingAndGlyphs">Room</text>
<text x="619.33" y="476.4" font-size="24" font-weight="bold" textLength="117.39" lengthAdjust="spacingAndGlyphs">Kit/Brkfst</text>
<text x="771.84" y="611.5" font-size="24" font-weight="bold" textLength="50.66" lengthAdjust="spacingAndGlyphs">Stor</text>
<text x="447.33" y="727.5" font-size="24" font-weight="bold" textLength="130.39" lengthAdjust="spacingAndGlyphs">Den/Office</text>
<text x="184.15" y="816.3" font-size="24" font-weight="bold" textLength="26.01" lengthAdjust="spacingAndGlyphs">Br</text>
<text x="223.88" y="816.3" font-size="24" font-weight="bold" textLength="12.25" lengthAdjust="spacingAndGlyphs">2</text>
<text x="710.06" y="819.0" font-size="24" font-weight="bold" textLength="85.88" lengthAdjust="spacingAndGlyphs">Garage</text>
<text x="185.27" y="345.2" font-size="22.5" font-weight="normal" textLength="26.62" lengthAdjust="spacingAndGlyphs">12</text>
<text x="229.87" y="345.2" font-size="22.5" font-weight="normal" textLength="50.46" lengthAdjust="spacingAndGlyphs">8x17</text>
<text x="532.35" y="346.0" font-size="22.5" font-weight="normal" textLength="19.27" lengthAdjust="spacingAndGlyphs">11</text>
<text x="573.86" y="346.0" font-size="22.5" font-weight="normal" textLength="44.40" lengthAdjust="spacingAndGlyphs">8x11</text>
<text x="641.14" y="346.0" font-size="22.5" font-weight="normal" textLength="12.06" lengthAdjust="spacingAndGlyphs">8</text>
<text x="689.46" y="372.3" font-size="22.5" font-weight="normal" textLength="19.15" lengthAdjust="spacingAndGlyphs">11</text>
<text x="730.77" y="372.3" font-size="22.5" font-weight="normal" textLength="43.77" lengthAdjust="spacingAndGlyphs">8x11</text>
<text x="796.84" y="372.3" font-size="22.5" font-weight="normal" textLength="12.06" lengthAdjust="spacingAndGlyphs">8</text>
<text x="342.35" y="501.1" font-size="22.5" font-weight="normal" textLength="65.86" lengthAdjust="spacingAndGlyphs">15x22</text>
<text x="645.83" y="501.8" font-size="22.5" font-weight="normal" textLength="60.48" lengthAdjust="spacingAndGlyphs">18x15</text>
<text x="447.43" y="753.5" font-size="22.5" font-weight="normal" textLength="63.53" lengthAdjust="spacingAndGlyphs">14x13</text>
<text x="530.50" y="753.5" font-size="22.5" font-weight="normal" textLength="11.37" lengthAdjust="spacingAndGlyphs">4</text>
<text x="183.62" y="842.6" font-size="22.5" font-weight="normal" textLength="24.80" lengthAdjust="spacingAndGlyphs">10</text>
<text x="229.10" y="842.6" font-size="22.5" font-weight="normal" textLength="47.78" lengthAdjust="spacingAndGlyphs">4x12</text>
<text x="710.10" y="845.3" font-size="22.5" font-weight="normal" textLength="61.21" lengthAdjust="spacingAndGlyphs">21x19</text>
<text x="790.60" y="845.3" font-size="22.5" font-weight="normal" textLength="12.10" lengthAdjust="spacingAndGlyphs">4</text>
<text x="196.50" y="361.4" font-size="13.5" font-weight="normal" textLength="54.18" lengthAdjust="spacingAndGlyphs">vaulted</text>
<text x="542.50" y="363.0" font-size="13.5" font-weight="normal" textLength="54.59" lengthAdjust="spacingAndGlyphs">vaulted</text>
<text x="347.07" y="518.0" font-size="13.5" font-weight="normal" textLength="31.28" lengthAdjust="spacingAndGlyphs">high</text>
<text x="388.93" y="518.0" font-size="13.5" font-weight="normal" textLength="48.63" lengthAdjust="spacingAndGlyphs">ceiling</text>
<text x="449.45" y="769.6" font-size="13.5" font-weight="normal" textLength="31.81" lengthAdjust="spacingAndGlyphs">high</text>
<text x="492.13" y="769.6" font-size="13.5" font-weight="normal" textLength="48.63" lengthAdjust="spacingAndGlyphs">ceiling</text>
<text x="463.35" y="632.0" font-size="13.5" font-weight="normal" textLength="20.48" lengthAdjust="spacingAndGlyphs">DN</text>
<rect x="213.9" y="337.9" width="12.8" height="1.2" fill="#000" stroke="#000" stroke-width="0.7"/>
<rect x="556.0" y="339.0" width="12.8" height="1.2" fill="#000" stroke="#000" stroke-width="0.7"/>
<rect x="623.3" y="339.0" width="12.7" height="1.2" fill="#000" stroke="#000" stroke-width="0.7"/>
<rect x="714.2" y="365.3" width="12.1" height="1.2" fill="#000" stroke="#000" stroke-width="0.7"/>
<rect x="779.5" y="365.3" width="12.8" height="1.2" fill="#000" stroke="#000" stroke-width="0.7"/>
<rect x="512.4" y="746.0" width="12.0" height="1.2" fill="#000" stroke="#000" stroke-width="0.7"/>
<rect x="211.0" y="835.4" width="12.8" height="1.2" fill="#000" stroke="#000" stroke-width="0.7"/>
<rect x="773.6" y="837.7" width="11.7" height="1.2" fill="#000" stroke="#000" stroke-width="0.7"/>
</svg></body></html>
